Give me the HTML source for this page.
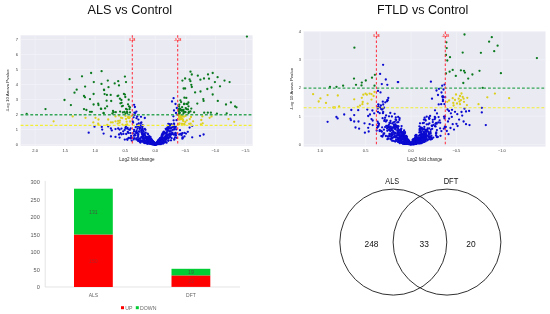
<!DOCTYPE html>
<html><head><meta charset="utf-8"><title>Volcano plots</title>
<style>html,body{margin:0;padding:0;background:#fff}svg{display:block}text{font-family:"Liberation Sans",sans-serif}</style>
</head><body>
<svg width="550" height="314" viewBox="0 0 550 314">
<rect width="550" height="314" fill="#fff"/>
<g font-size="13.2" fill="#111" text-anchor="middle"><text x="129.8" y="14.2" textLength="84.6" lengthAdjust="spacingAndGlyphs">ALS vs Control</text><text x="422.7" y="14.2" textLength="91.4" lengthAdjust="spacingAndGlyphs">FTLD vs Control</text></g>
<rect x="20.6" y="35.3" width="232.0" height="110.5" fill="#eaeaf3"/>
<path d="M35.1 35.3V145.8M65.2 35.3V145.8M95.2 35.3V145.8M125.3 35.3V145.8M155.3 35.3V145.8M185.4 35.3V145.8M215.4 35.3V145.8M245.5 35.3V145.8M20.6 144.5H252.6M20.6 129.5H252.6M20.6 114.5H252.6M20.6 99.5H252.6M20.6 84.5H252.6M20.6 69.5H252.6M20.6 54.5H252.6M20.6 39.5H252.6" stroke="#f4f4f9" stroke-width="0.6" fill="none"/>
<g font-size="4" fill="#3a3a3a" text-anchor="middle">
<text x="35.1" y="152.0">2.0</text>
<text x="65.2" y="152.0">1.5</text>
<text x="95.2" y="152.0">1.0</text>
<text x="125.3" y="152.0">0.5</text>
<text x="155.3" y="152.0">0.0</text>
<text x="185.4" y="152.0">−0.5</text>
<text x="215.4" y="152.0">−1.0</text>
<text x="245.5" y="152.0">−1.5</text>
</g><g font-size="4" fill="#3a3a3a" text-anchor="end">
<text x="18.0" y="145.9">0</text>
<text x="18.0" y="130.9">1</text>
<text x="18.0" y="115.9">2</text>
<text x="18.0" y="100.9">3</text>
<text x="18.0" y="85.9">4</text>
<text x="18.0" y="70.9">5</text>
<text x="18.0" y="55.9">6</text>
<text x="18.0" y="40.9">7</text>
</g>
<text x="136.9" y="161.2" font-size="4.6" fill="#2a2a2a" text-anchor="middle">Log2 fold change</text>
<text transform="translate(8.6,90.6) rotate(-90)" font-size="4.35" fill="#2a2a2a" text-anchor="middle">-Log 10 Anova Pvalue</text>
<g fill="#0a0ad0"><circle cx="94.5" cy="126.7" r="1.15"/><circle cx="88.7" cy="132.7" r="1.15"/><circle cx="101.8" cy="126.9" r="1.15"/><circle cx="102.2" cy="129.6" r="1.15"/><circle cx="103.6" cy="133.6" r="1.15"/><circle cx="108.2" cy="126.4" r="1.15"/><circle cx="110.9" cy="128.5" r="1.15"/><circle cx="111.8" cy="130.4" r="1.15"/><circle cx="115.5" cy="129.1" r="1.15"/><circle cx="118.2" cy="128.5" r="1.15"/><circle cx="119.6" cy="129.6" r="1.15"/><circle cx="110.9" cy="136.4" r="1.15"/><circle cx="115.5" cy="136.9" r="1.15"/><circle cx="119.0" cy="134.5" r="1.15"/><circle cx="119.6" cy="137.6" r="1.15"/><circle cx="203.6" cy="134.5" r="1.15"/><circle cx="200.0" cy="135.8" r="1.15"/><circle cx="192.2" cy="137.3" r="1.15"/><circle cx="187.8" cy="131.8" r="1.15"/><circle cx="184.5" cy="136.4" r="1.15"/><circle cx="182.4" cy="138.7" r="1.15"/><circle cx="189.6" cy="127.6" r="1.15"/><circle cx="192.2" cy="125.8" r="1.15"/><circle cx="134.1" cy="104.8" r="1.15"/><circle cx="134.9" cy="107.0" r="1.15"/><circle cx="136.4" cy="111.6" r="1.15"/><circle cx="135.3" cy="112.9" r="1.15"/><circle cx="134.6" cy="115.0" r="1.15"/><circle cx="133.6" cy="117.3" r="1.15"/><circle cx="141.0" cy="116.8" r="1.15"/><circle cx="144.8" cy="118.0" r="1.15"/><circle cx="173.6" cy="98.2" r="1.15"/><circle cx="172.0" cy="101.5" r="1.15"/><circle cx="175.5" cy="104.0" r="1.15"/><circle cx="176.8" cy="108.0" r="1.15"/><circle cx="174.0" cy="110.5" r="1.15"/><circle cx="176.0" cy="113.0" r="1.15"/><circle cx="131.1" cy="135.9" r="1.15"/><circle cx="120.7" cy="133.2" r="1.15"/><circle cx="130.2" cy="137.8" r="1.15"/><circle cx="128.6" cy="138.0" r="1.15"/><circle cx="127.8" cy="132.0" r="1.15"/><circle cx="121.5" cy="128.6" r="1.15"/><circle cx="130.7" cy="128.3" r="1.15"/><circle cx="130.5" cy="138.4" r="1.15"/><circle cx="123.2" cy="131.3" r="1.15"/><circle cx="125.4" cy="128.0" r="1.15"/><circle cx="131.7" cy="140.6" r="1.15"/><circle cx="123.4" cy="133.9" r="1.15"/><circle cx="127.2" cy="139.1" r="1.15"/><circle cx="129.9" cy="129.8" r="1.15"/><circle cx="129.0" cy="129.6" r="1.15"/><circle cx="124.7" cy="129.9" r="1.15"/><circle cx="127.5" cy="128.0" r="1.15"/><circle cx="128.3" cy="132.9" r="1.15"/><circle cx="124.8" cy="139.6" r="1.15"/><circle cx="127.4" cy="139.8" r="1.15"/><circle cx="126.2" cy="134.0" r="1.15"/><circle cx="125.9" cy="126.3" r="1.15"/><circle cx="127.2" cy="128.7" r="1.15"/><circle cx="131.8" cy="138.0" r="1.15"/><circle cx="130.3" cy="133.1" r="1.15"/><circle cx="121.5" cy="134.3" r="1.15"/><circle cx="180.6" cy="133.8" r="1.15"/><circle cx="182.7" cy="137.8" r="1.15"/><circle cx="179.2" cy="134.4" r="1.15"/><circle cx="180.0" cy="130.2" r="1.15"/><circle cx="186.0" cy="133.6" r="1.15"/><circle cx="182.7" cy="137.4" r="1.15"/><circle cx="181.5" cy="135.2" r="1.15"/><circle cx="182.1" cy="133.7" r="1.15"/><circle cx="184.5" cy="132.8" r="1.15"/><circle cx="182.4" cy="133.2" r="1.15"/><circle cx="145.7" cy="132.7" r="1.15"/><circle cx="147.6" cy="133.7" r="1.15"/><circle cx="157.3" cy="143.0" r="1.15"/><circle cx="145.2" cy="143.1" r="1.15"/><circle cx="159.8" cy="143.9" r="1.15"/><circle cx="142.6" cy="138.2" r="1.15"/><circle cx="136.3" cy="131.9" r="1.15"/><circle cx="141.3" cy="130.9" r="1.15"/><circle cx="175.7" cy="133.5" r="1.15"/><circle cx="162.3" cy="141.4" r="1.15"/><circle cx="159.4" cy="141.3" r="1.15"/><circle cx="140.2" cy="127.5" r="1.15"/><circle cx="144.4" cy="134.4" r="1.15"/><circle cx="167.0" cy="134.7" r="1.15"/><circle cx="156.7" cy="142.7" r="1.15"/><circle cx="159.7" cy="144.1" r="1.15"/><circle cx="167.4" cy="137.6" r="1.15"/><circle cx="163.2" cy="132.4" r="1.15"/><circle cx="148.1" cy="141.6" r="1.15"/><circle cx="151.3" cy="138.9" r="1.15"/><circle cx="145.4" cy="137.5" r="1.15"/><circle cx="143.5" cy="138.7" r="1.15"/><circle cx="150.7" cy="142.7" r="1.15"/><circle cx="159.9" cy="143.5" r="1.15"/><circle cx="165.8" cy="136.6" r="1.15"/><circle cx="162.7" cy="141.5" r="1.15"/><circle cx="154.2" cy="143.1" r="1.15"/><circle cx="151.6" cy="143.6" r="1.15"/><circle cx="137.2" cy="116.4" r="1.15"/><circle cx="162.4" cy="133.6" r="1.15"/><circle cx="153.5" cy="142.3" r="1.15"/><circle cx="174.3" cy="129.2" r="1.15"/><circle cx="135.5" cy="135.3" r="1.15"/><circle cx="166.9" cy="128.3" r="1.15"/><circle cx="165.8" cy="135.3" r="1.15"/><circle cx="150.2" cy="141.9" r="1.15"/><circle cx="152.9" cy="143.8" r="1.15"/><circle cx="173.9" cy="129.6" r="1.15"/><circle cx="167.8" cy="137.1" r="1.15"/><circle cx="134.1" cy="138.2" r="1.15"/><circle cx="159.9" cy="143.1" r="1.15"/><circle cx="153.6" cy="144.1" r="1.15"/><circle cx="171.0" cy="134.8" r="1.15"/><circle cx="142.5" cy="140.4" r="1.15"/><circle cx="151.8" cy="144.0" r="1.15"/><circle cx="164.3" cy="139.6" r="1.15"/><circle cx="134.4" cy="112.7" r="1.15"/><circle cx="147.7" cy="143.3" r="1.15"/><circle cx="151.5" cy="140.4" r="1.15"/><circle cx="159.8" cy="142.5" r="1.15"/><circle cx="168.3" cy="134.8" r="1.15"/><circle cx="147.8" cy="139.2" r="1.15"/><circle cx="134.6" cy="134.3" r="1.15"/><circle cx="175.8" cy="126.9" r="1.15"/><circle cx="148.6" cy="136.6" r="1.15"/><circle cx="145.5" cy="129.8" r="1.15"/><circle cx="147.2" cy="143.5" r="1.15"/><circle cx="158.5" cy="141.2" r="1.15"/><circle cx="156.2" cy="143.2" r="1.15"/><circle cx="143.8" cy="142.4" r="1.15"/><circle cx="174.2" cy="139.7" r="1.15"/><circle cx="154.6" cy="143.9" r="1.15"/><circle cx="152.3" cy="141.7" r="1.15"/><circle cx="155.2" cy="144.3" r="1.15"/><circle cx="160.1" cy="138.1" r="1.15"/><circle cx="150.0" cy="142.8" r="1.15"/><circle cx="146.7" cy="139.5" r="1.15"/><circle cx="150.9" cy="139.7" r="1.15"/><circle cx="153.9" cy="142.1" r="1.15"/><circle cx="168.8" cy="138.0" r="1.15"/><circle cx="165.1" cy="138.1" r="1.15"/><circle cx="159.6" cy="143.2" r="1.15"/><circle cx="152.9" cy="142.2" r="1.15"/><circle cx="155.7" cy="143.8" r="1.15"/><circle cx="138.4" cy="140.3" r="1.15"/><circle cx="142.3" cy="141.5" r="1.15"/><circle cx="154.5" cy="143.7" r="1.15"/><circle cx="153.8" cy="143.5" r="1.15"/><circle cx="148.1" cy="134.4" r="1.15"/><circle cx="160.1" cy="141.2" r="1.15"/><circle cx="154.8" cy="144.3" r="1.15"/><circle cx="155.1" cy="144.1" r="1.15"/><circle cx="144.6" cy="140.9" r="1.15"/><circle cx="151.9" cy="141.4" r="1.15"/><circle cx="155.2" cy="144.0" r="1.15"/><circle cx="153.7" cy="142.3" r="1.15"/><circle cx="149.2" cy="141.5" r="1.15"/><circle cx="153.0" cy="142.2" r="1.15"/><circle cx="159.2" cy="143.8" r="1.15"/><circle cx="146.6" cy="137.2" r="1.15"/><circle cx="152.1" cy="142.4" r="1.15"/><circle cx="149.7" cy="138.4" r="1.15"/><circle cx="163.9" cy="131.7" r="1.15"/><circle cx="161.0" cy="142.2" r="1.15"/><circle cx="153.7" cy="142.5" r="1.15"/><circle cx="147.0" cy="142.7" r="1.15"/><circle cx="164.0" cy="138.2" r="1.15"/><circle cx="162.8" cy="139.7" r="1.15"/><circle cx="142.2" cy="136.3" r="1.15"/><circle cx="166.2" cy="138.5" r="1.15"/><circle cx="157.6" cy="142.8" r="1.15"/><circle cx="167.7" cy="129.6" r="1.15"/><circle cx="157.2" cy="144.0" r="1.15"/><circle cx="153.4" cy="143.1" r="1.15"/><circle cx="150.3" cy="143.8" r="1.15"/><circle cx="176.5" cy="120.2" r="1.15"/><circle cx="173.6" cy="120.3" r="1.15"/><circle cx="163.4" cy="143.1" r="1.15"/><circle cx="161.2" cy="139.4" r="1.15"/><circle cx="143.4" cy="136.2" r="1.15"/><circle cx="152.8" cy="143.7" r="1.15"/><circle cx="142.2" cy="133.1" r="1.15"/><circle cx="160.7" cy="140.2" r="1.15"/><circle cx="156.5" cy="143.1" r="1.15"/><circle cx="166.2" cy="132.9" r="1.15"/><circle cx="149.9" cy="143.4" r="1.15"/><circle cx="150.1" cy="141.7" r="1.15"/><circle cx="166.8" cy="134.5" r="1.15"/><circle cx="148.6" cy="140.6" r="1.15"/><circle cx="143.6" cy="138.6" r="1.15"/><circle cx="159.9" cy="139.2" r="1.15"/><circle cx="158.9" cy="142.8" r="1.15"/><circle cx="159.5" cy="141.2" r="1.15"/><circle cx="160.8" cy="143.8" r="1.15"/><circle cx="157.3" cy="143.1" r="1.15"/><circle cx="151.4" cy="142.3" r="1.15"/><circle cx="152.2" cy="143.5" r="1.15"/><circle cx="164.7" cy="139.3" r="1.15"/><circle cx="155.0" cy="144.2" r="1.15"/><circle cx="146.3" cy="137.4" r="1.15"/><circle cx="141.6" cy="130.4" r="1.15"/><circle cx="151.9" cy="142.1" r="1.15"/><circle cx="153.1" cy="143.7" r="1.15"/><circle cx="158.7" cy="140.2" r="1.15"/><circle cx="162.2" cy="134.7" r="1.15"/><circle cx="140.2" cy="142.2" r="1.15"/><circle cx="142.7" cy="133.3" r="1.15"/><circle cx="164.3" cy="138.0" r="1.15"/><circle cx="167.4" cy="134.9" r="1.15"/><circle cx="150.6" cy="137.1" r="1.15"/><circle cx="163.6" cy="134.7" r="1.15"/><circle cx="156.3" cy="143.3" r="1.15"/><circle cx="162.9" cy="143.7" r="1.15"/><circle cx="151.2" cy="140.2" r="1.15"/><circle cx="162.7" cy="140.6" r="1.15"/><circle cx="156.4" cy="143.1" r="1.15"/><circle cx="158.0" cy="141.7" r="1.15"/><circle cx="136.2" cy="133.2" r="1.15"/><circle cx="162.3" cy="138.9" r="1.15"/><circle cx="158.9" cy="143.9" r="1.15"/><circle cx="164.3" cy="138.3" r="1.15"/><circle cx="153.3" cy="144.4" r="1.15"/><circle cx="173.4" cy="116.3" r="1.15"/><circle cx="138.5" cy="141.1" r="1.15"/><circle cx="155.7" cy="144.1" r="1.15"/><circle cx="150.3" cy="143.1" r="1.15"/><circle cx="147.3" cy="141.7" r="1.15"/><circle cx="142.3" cy="126.8" r="1.15"/><circle cx="150.5" cy="139.9" r="1.15"/><circle cx="162.5" cy="141.9" r="1.15"/><circle cx="153.8" cy="142.9" r="1.15"/><circle cx="148.2" cy="143.3" r="1.15"/><circle cx="154.4" cy="143.4" r="1.15"/><circle cx="141.4" cy="132.6" r="1.15"/><circle cx="146.2" cy="138.8" r="1.15"/><circle cx="154.1" cy="144.0" r="1.15"/><circle cx="154.4" cy="143.5" r="1.15"/><circle cx="169.6" cy="124.4" r="1.15"/><circle cx="153.4" cy="144.2" r="1.15"/><circle cx="150.4" cy="141.1" r="1.15"/><circle cx="159.0" cy="144.0" r="1.15"/><circle cx="142.3" cy="126.9" r="1.15"/><circle cx="151.1" cy="140.6" r="1.15"/><circle cx="147.2" cy="143.6" r="1.15"/><circle cx="143.8" cy="138.2" r="1.15"/><circle cx="154.9" cy="144.1" r="1.15"/><circle cx="170.4" cy="128.7" r="1.15"/><circle cx="161.5" cy="137.8" r="1.15"/><circle cx="141.4" cy="122.5" r="1.15"/><circle cx="136.6" cy="130.3" r="1.15"/><circle cx="174.4" cy="138.9" r="1.15"/><circle cx="152.8" cy="142.8" r="1.15"/><circle cx="156.5" cy="143.5" r="1.15"/><circle cx="161.2" cy="140.3" r="1.15"/><circle cx="158.0" cy="142.7" r="1.15"/><circle cx="142.9" cy="136.0" r="1.15"/><circle cx="169.7" cy="136.3" r="1.15"/><circle cx="154.9" cy="144.3" r="1.15"/><circle cx="152.0" cy="140.8" r="1.15"/><circle cx="149.5" cy="143.5" r="1.15"/><circle cx="160.6" cy="139.7" r="1.15"/><circle cx="158.9" cy="141.5" r="1.15"/><circle cx="147.8" cy="139.0" r="1.15"/><circle cx="148.9" cy="137.9" r="1.15"/><circle cx="157.6" cy="143.4" r="1.15"/><circle cx="156.6" cy="143.9" r="1.15"/><circle cx="172.0" cy="133.4" r="1.15"/><circle cx="148.2" cy="139.6" r="1.15"/><circle cx="157.1" cy="142.4" r="1.15"/><circle cx="151.4" cy="144.0" r="1.15"/><circle cx="142.9" cy="141.3" r="1.15"/><circle cx="151.6" cy="143.2" r="1.15"/><circle cx="148.1" cy="138.8" r="1.15"/><circle cx="153.0" cy="141.2" r="1.15"/><circle cx="162.0" cy="141.2" r="1.15"/><circle cx="160.3" cy="140.2" r="1.15"/><circle cx="142.3" cy="133.6" r="1.15"/><circle cx="136.2" cy="138.3" r="1.15"/><circle cx="153.3" cy="142.9" r="1.15"/><circle cx="163.2" cy="140.8" r="1.15"/><circle cx="145.9" cy="142.1" r="1.15"/><circle cx="167.5" cy="137.3" r="1.15"/><circle cx="159.8" cy="143.1" r="1.15"/><circle cx="147.3" cy="137.9" r="1.15"/><circle cx="149.4" cy="136.2" r="1.15"/><circle cx="154.0" cy="144.3" r="1.15"/><circle cx="157.5" cy="143.1" r="1.15"/><circle cx="172.5" cy="132.6" r="1.15"/><circle cx="151.5" cy="142.2" r="1.15"/><circle cx="165.9" cy="142.2" r="1.15"/><circle cx="137.6" cy="128.6" r="1.15"/><circle cx="155.3" cy="144.4" r="1.15"/><circle cx="154.3" cy="143.4" r="1.15"/><circle cx="158.0" cy="142.1" r="1.15"/><circle cx="172.4" cy="134.1" r="1.15"/><circle cx="170.9" cy="131.1" r="1.15"/><circle cx="162.0" cy="135.8" r="1.15"/><circle cx="137.1" cy="124.3" r="1.15"/><circle cx="154.7" cy="143.8" r="1.15"/><circle cx="160.3" cy="140.5" r="1.15"/><circle cx="172.3" cy="125.6" r="1.15"/><circle cx="153.2" cy="142.1" r="1.15"/><circle cx="148.1" cy="138.3" r="1.15"/><circle cx="144.4" cy="139.7" r="1.15"/><circle cx="139.9" cy="127.9" r="1.15"/><circle cx="140.1" cy="141.7" r="1.15"/><circle cx="155.2" cy="144.4" r="1.15"/><circle cx="173.9" cy="126.5" r="1.15"/><circle cx="154.8" cy="143.7" r="1.15"/><circle cx="146.1" cy="136.8" r="1.15"/><circle cx="148.5" cy="141.9" r="1.15"/><circle cx="137.8" cy="137.3" r="1.15"/><circle cx="147.7" cy="140.3" r="1.15"/><circle cx="168.6" cy="140.3" r="1.15"/><circle cx="156.7" cy="143.0" r="1.15"/><circle cx="155.8" cy="144.2" r="1.15"/><circle cx="147.0" cy="142.4" r="1.15"/><circle cx="156.5" cy="142.6" r="1.15"/><circle cx="169.6" cy="134.6" r="1.15"/><circle cx="155.2" cy="144.4" r="1.15"/><circle cx="148.0" cy="142.7" r="1.15"/><circle cx="134.0" cy="135.8" r="1.15"/><circle cx="148.0" cy="137.9" r="1.15"/><circle cx="161.5" cy="142.3" r="1.15"/><circle cx="163.3" cy="140.2" r="1.15"/><circle cx="146.1" cy="141.2" r="1.15"/><circle cx="169.4" cy="124.5" r="1.15"/><circle cx="153.9" cy="142.6" r="1.15"/><circle cx="138.8" cy="131.6" r="1.15"/><circle cx="154.7" cy="143.7" r="1.15"/><circle cx="167.6" cy="127.5" r="1.15"/><circle cx="155.8" cy="144.0" r="1.15"/><circle cx="164.4" cy="132.7" r="1.15"/><circle cx="161.4" cy="136.7" r="1.15"/><circle cx="148.5" cy="143.3" r="1.15"/><circle cx="152.8" cy="142.5" r="1.15"/><circle cx="138.2" cy="136.1" r="1.15"/><circle cx="155.2" cy="144.4" r="1.15"/><circle cx="138.4" cy="126.6" r="1.15"/><circle cx="170.3" cy="136.9" r="1.15"/><circle cx="155.7" cy="143.9" r="1.15"/><circle cx="155.3" cy="144.3" r="1.15"/><circle cx="153.6" cy="143.2" r="1.15"/><circle cx="141.9" cy="129.1" r="1.15"/><circle cx="154.4" cy="143.4" r="1.15"/><circle cx="133.1" cy="122.5" r="1.15"/><circle cx="138.4" cy="134.1" r="1.15"/><circle cx="164.0" cy="132.1" r="1.15"/><circle cx="142.8" cy="129.1" r="1.15"/><circle cx="177.0" cy="137.9" r="1.15"/><circle cx="158.9" cy="141.6" r="1.15"/><circle cx="169.5" cy="135.4" r="1.15"/><circle cx="153.9" cy="143.4" r="1.15"/><circle cx="149.6" cy="142.2" r="1.15"/><circle cx="156.4" cy="143.1" r="1.15"/><circle cx="170.9" cy="133.5" r="1.15"/><circle cx="162.6" cy="139.6" r="1.15"/><circle cx="155.6" cy="144.0" r="1.15"/><circle cx="154.2" cy="144.4" r="1.15"/><circle cx="143.6" cy="131.6" r="1.15"/><circle cx="144.5" cy="142.4" r="1.15"/><circle cx="141.6" cy="137.2" r="1.15"/><circle cx="153.8" cy="143.2" r="1.15"/><circle cx="168.8" cy="127.5" r="1.15"/><circle cx="138.8" cy="123.5" r="1.15"/><circle cx="147.0" cy="138.3" r="1.15"/><circle cx="142.6" cy="125.1" r="1.15"/><circle cx="144.6" cy="140.7" r="1.15"/><circle cx="142.0" cy="134.1" r="1.15"/><circle cx="138.1" cy="134.9" r="1.15"/><circle cx="144.5" cy="135.1" r="1.15"/><circle cx="134.1" cy="129.9" r="1.15"/><circle cx="152.7" cy="142.2" r="1.15"/><circle cx="162.2" cy="135.9" r="1.15"/><circle cx="159.4" cy="139.2" r="1.15"/><circle cx="150.8" cy="140.6" r="1.15"/><circle cx="148.9" cy="143.1" r="1.15"/><circle cx="160.8" cy="144.2" r="1.15"/><circle cx="154.4" cy="143.6" r="1.15"/><circle cx="149.4" cy="140.6" r="1.15"/><circle cx="149.0" cy="138.0" r="1.15"/><circle cx="148.0" cy="137.1" r="1.15"/><circle cx="152.1" cy="140.2" r="1.15"/><circle cx="166.6" cy="142.7" r="1.15"/><circle cx="132.7" cy="121.3" r="1.15"/><circle cx="155.1" cy="144.2" r="1.15"/><circle cx="168.9" cy="128.7" r="1.15"/><circle cx="140.1" cy="140.2" r="1.15"/><circle cx="157.9" cy="142.6" r="1.15"/><circle cx="160.5" cy="138.3" r="1.15"/><circle cx="156.8" cy="143.9" r="1.15"/><circle cx="162.9" cy="138.0" r="1.15"/><circle cx="161.7" cy="140.6" r="1.15"/><circle cx="176.2" cy="129.4" r="1.15"/><circle cx="140.9" cy="123.1" r="1.15"/><circle cx="146.6" cy="137.8" r="1.15"/><circle cx="166.1" cy="139.5" r="1.15"/><circle cx="150.0" cy="137.4" r="1.15"/><circle cx="156.9" cy="143.1" r="1.15"/><circle cx="150.7" cy="143.5" r="1.15"/><circle cx="141.8" cy="140.7" r="1.15"/><circle cx="138.1" cy="140.8" r="1.15"/><circle cx="147.8" cy="140.5" r="1.15"/><circle cx="136.3" cy="139.5" r="1.15"/><circle cx="175.4" cy="132.9" r="1.15"/><circle cx="139.8" cy="129.1" r="1.15"/><circle cx="158.3" cy="144.1" r="1.15"/><circle cx="156.7" cy="144.2" r="1.15"/><circle cx="161.7" cy="140.6" r="1.15"/><circle cx="137.4" cy="126.4" r="1.15"/><circle cx="157.6" cy="142.9" r="1.15"/><circle cx="156.0" cy="144.4" r="1.15"/><circle cx="157.0" cy="143.8" r="1.15"/><circle cx="159.2" cy="143.9" r="1.15"/><circle cx="138.1" cy="139.6" r="1.15"/><circle cx="159.2" cy="140.5" r="1.15"/><circle cx="138.4" cy="119.6" r="1.15"/><circle cx="167.0" cy="132.1" r="1.15"/><circle cx="151.7" cy="143.4" r="1.15"/><circle cx="150.7" cy="142.2" r="1.15"/><circle cx="154.4" cy="143.5" r="1.15"/><circle cx="162.4" cy="141.2" r="1.15"/><circle cx="132.8" cy="133.3" r="1.15"/><circle cx="149.6" cy="142.9" r="1.15"/><circle cx="145.6" cy="142.7" r="1.15"/><circle cx="140.5" cy="125.3" r="1.15"/><circle cx="134.0" cy="131.6" r="1.15"/><circle cx="146.9" cy="141.6" r="1.15"/><circle cx="174.1" cy="124.0" r="1.15"/><circle cx="155.8" cy="143.7" r="1.15"/><circle cx="163.0" cy="139.3" r="1.15"/><circle cx="164.4" cy="137.1" r="1.15"/><circle cx="153.2" cy="143.3" r="1.15"/><circle cx="140.3" cy="138.4" r="1.15"/><circle cx="167.7" cy="130.3" r="1.15"/><circle cx="148.0" cy="138.2" r="1.15"/><circle cx="133.7" cy="139.4" r="1.15"/><circle cx="165.7" cy="128.8" r="1.15"/><circle cx="144.6" cy="141.5" r="1.15"/><circle cx="163.8" cy="139.2" r="1.15"/><circle cx="171.4" cy="124.1" r="1.15"/><circle cx="170.7" cy="125.5" r="1.15"/><circle cx="152.5" cy="142.0" r="1.15"/><circle cx="168.1" cy="138.3" r="1.15"/><circle cx="160.5" cy="142.6" r="1.15"/><circle cx="171.1" cy="128.0" r="1.15"/><circle cx="136.3" cy="131.9" r="1.15"/><circle cx="155.0" cy="144.2" r="1.15"/><circle cx="165.9" cy="133.0" r="1.15"/><circle cx="165.9" cy="132.8" r="1.15"/><circle cx="141.4" cy="137.1" r="1.15"/><circle cx="175.0" cy="137.3" r="1.15"/><circle cx="161.2" cy="143.1" r="1.15"/><circle cx="149.6" cy="142.2" r="1.15"/><circle cx="152.8" cy="141.4" r="1.15"/><circle cx="168.3" cy="123.8" r="1.15"/><circle cx="157.8" cy="140.9" r="1.15"/><circle cx="151.7" cy="142.9" r="1.15"/><circle cx="154.1" cy="143.9" r="1.15"/><circle cx="157.4" cy="142.2" r="1.15"/><circle cx="159.3" cy="141.7" r="1.15"/><circle cx="169.4" cy="131.2" r="1.15"/><circle cx="146.0" cy="141.7" r="1.15"/><circle cx="144.5" cy="133.5" r="1.15"/><circle cx="176.0" cy="135.6" r="1.15"/><circle cx="152.3" cy="142.5" r="1.15"/><circle cx="153.1" cy="142.8" r="1.15"/><circle cx="164.3" cy="142.6" r="1.15"/><circle cx="157.2" cy="142.8" r="1.15"/><circle cx="149.6" cy="140.0" r="1.15"/><circle cx="152.2" cy="142.7" r="1.15"/><circle cx="156.6" cy="143.9" r="1.15"/><circle cx="161.3" cy="143.0" r="1.15"/><circle cx="160.2" cy="139.1" r="1.15"/><circle cx="152.5" cy="144.3" r="1.15"/><circle cx="171.0" cy="140.3" r="1.15"/><circle cx="156.4" cy="143.7" r="1.15"/><circle cx="139.3" cy="131.5" r="1.15"/><circle cx="175.6" cy="134.4" r="1.15"/><circle cx="158.6" cy="142.1" r="1.15"/><circle cx="144.8" cy="128.9" r="1.15"/><circle cx="150.5" cy="143.3" r="1.15"/><circle cx="161.8" cy="140.3" r="1.15"/><circle cx="144.5" cy="143.0" r="1.15"/><circle cx="173.7" cy="134.3" r="1.15"/><circle cx="154.3" cy="142.9" r="1.15"/><circle cx="143.0" cy="134.6" r="1.15"/><circle cx="149.5" cy="141.5" r="1.15"/><circle cx="136.5" cy="118.2" r="1.15"/><circle cx="166.2" cy="129.8" r="1.15"/><circle cx="159.2" cy="139.6" r="1.15"/><circle cx="160.8" cy="138.7" r="1.15"/><circle cx="171.6" cy="138.2" r="1.15"/><circle cx="159.4" cy="142.3" r="1.15"/><circle cx="169.4" cy="133.5" r="1.15"/><circle cx="153.4" cy="143.6" r="1.15"/><circle cx="154.3" cy="144.2" r="1.15"/><circle cx="161.4" cy="138.3" r="1.15"/><circle cx="156.7" cy="143.5" r="1.15"/><circle cx="161.6" cy="138.2" r="1.15"/><circle cx="172.7" cy="127.3" r="1.15"/><circle cx="156.7" cy="144.3" r="1.15"/><circle cx="143.7" cy="141.4" r="1.15"/><circle cx="174.2" cy="134.7" r="1.15"/><circle cx="168.7" cy="126.7" r="1.15"/><circle cx="148.3" cy="139.4" r="1.15"/><circle cx="160.0" cy="138.7" r="1.15"/><circle cx="145.1" cy="135.4" r="1.15"/><circle cx="168.2" cy="140.8" r="1.15"/><circle cx="155.4" cy="144.1" r="1.15"/><circle cx="154.5" cy="143.8" r="1.15"/><circle cx="159.9" cy="141.8" r="1.15"/><circle cx="140.4" cy="142.6" r="1.15"/><circle cx="167.1" cy="138.5" r="1.15"/><circle cx="163.9" cy="142.0" r="1.15"/><circle cx="161.8" cy="135.2" r="1.15"/><circle cx="164.9" cy="141.6" r="1.15"/><circle cx="166.9" cy="137.4" r="1.15"/><circle cx="137.2" cy="132.9" r="1.15"/><circle cx="154.8" cy="143.7" r="1.15"/><circle cx="155.0" cy="144.3" r="1.15"/><circle cx="158.5" cy="143.3" r="1.15"/><circle cx="167.9" cy="130.7" r="1.15"/><circle cx="151.6" cy="142.4" r="1.15"/><circle cx="156.5" cy="144.4" r="1.15"/><circle cx="162.2" cy="141.2" r="1.15"/><circle cx="151.4" cy="140.5" r="1.15"/><circle cx="151.2" cy="141.1" r="1.15"/><circle cx="154.3" cy="144.0" r="1.15"/><circle cx="173.9" cy="123.6" r="1.15"/><circle cx="156.1" cy="144.1" r="1.15"/><circle cx="145.4" cy="141.1" r="1.15"/><circle cx="158.4" cy="140.1" r="1.15"/><circle cx="158.0" cy="143.4" r="1.15"/><circle cx="155.6" cy="144.4" r="1.15"/><circle cx="163.9" cy="133.3" r="1.15"/><circle cx="153.6" cy="143.5" r="1.15"/><circle cx="135.7" cy="127.2" r="1.15"/><circle cx="174.8" cy="127.9" r="1.15"/><circle cx="154.3" cy="143.2" r="1.15"/><circle cx="141.5" cy="141.3" r="1.15"/><circle cx="137.2" cy="139.4" r="1.15"/><circle cx="145.3" cy="137.2" r="1.15"/><circle cx="143.1" cy="130.9" r="1.15"/><circle cx="172.4" cy="129.9" r="1.15"/><circle cx="156.1" cy="143.6" r="1.15"/><circle cx="165.5" cy="140.3" r="1.15"/><circle cx="139.2" cy="138.7" r="1.15"/><circle cx="152.7" cy="144.2" r="1.15"/><circle cx="149.7" cy="140.9" r="1.15"/></g>
<g fill="#dccf1e"><circle cx="53.6" cy="121.3" r="1.15"/><circle cx="72.7" cy="116.4" r="1.15"/><circle cx="85.5" cy="117.8" r="1.15"/><circle cx="95.5" cy="117.8" r="1.15"/><circle cx="98.5" cy="119.5" r="1.15"/><circle cx="93.3" cy="122.4" r="1.15"/><circle cx="98.2" cy="123.6" r="1.15"/><circle cx="98.5" cy="124.9" r="1.15"/><circle cx="108.2" cy="119.5" r="1.15"/><circle cx="110.9" cy="122.4" r="1.15"/><circle cx="112.7" cy="122.4" r="1.15"/><circle cx="107.3" cy="124.9" r="1.15"/><circle cx="115.5" cy="116.4" r="1.15"/><circle cx="119.0" cy="115.5" r="1.15"/><circle cx="115.5" cy="121.3" r="1.15"/><circle cx="118.2" cy="120.9" r="1.15"/><circle cx="119.6" cy="122.7" r="1.15"/><circle cx="117.8" cy="123.6" r="1.15"/><circle cx="228.5" cy="119.1" r="1.15"/><circle cx="234.2" cy="121.8" r="1.15"/><circle cx="211.5" cy="116.4" r="1.15"/><circle cx="209.6" cy="117.8" r="1.15"/><circle cx="202.4" cy="116.4" r="1.15"/><circle cx="201.3" cy="120.0" r="1.15"/><circle cx="202.7" cy="123.3" r="1.15"/><circle cx="200.9" cy="124.5" r="1.15"/><circle cx="182.1" cy="123.8" r="1.15"/><circle cx="179.2" cy="119.7" r="1.15"/><circle cx="184.2" cy="123.9" r="1.15"/><circle cx="190.6" cy="123.7" r="1.15"/><circle cx="180.9" cy="119.3" r="1.15"/><circle cx="181.7" cy="123.9" r="1.15"/><circle cx="179.7" cy="117.0" r="1.15"/><circle cx="180.4" cy="117.6" r="1.15"/><circle cx="183.2" cy="121.0" r="1.15"/><circle cx="180.7" cy="115.3" r="1.15"/><circle cx="182.4" cy="118.9" r="1.15"/><circle cx="184.4" cy="124.5" r="1.15"/><circle cx="186.8" cy="120.3" r="1.15"/><circle cx="185.3" cy="121.9" r="1.15"/><circle cx="179.0" cy="124.0" r="1.15"/><circle cx="189.2" cy="123.8" r="1.15"/><circle cx="189.8" cy="119.1" r="1.15"/><circle cx="182.2" cy="116.3" r="1.15"/><circle cx="185.6" cy="115.9" r="1.15"/><circle cx="179.1" cy="117.3" r="1.15"/><circle cx="179.8" cy="118.6" r="1.15"/><circle cx="179.0" cy="115.3" r="1.15"/><circle cx="179.7" cy="116.3" r="1.15"/><circle cx="181.8" cy="115.5" r="1.15"/><circle cx="193.1" cy="121.3" r="1.15"/><circle cx="179.7" cy="117.7" r="1.15"/><circle cx="181.6" cy="118.8" r="1.15"/><circle cx="179.5" cy="123.5" r="1.15"/><circle cx="183.0" cy="120.0" r="1.15"/><circle cx="179.2" cy="116.3" r="1.15"/><circle cx="181.5" cy="117.9" r="1.15"/><circle cx="191.0" cy="116.9" r="1.15"/><circle cx="178.8" cy="124.5" r="1.15"/><circle cx="183.9" cy="116.7" r="1.15"/><circle cx="125.5" cy="115.9" r="1.15"/><circle cx="125.8" cy="124.8" r="1.15"/><circle cx="122.3" cy="118.1" r="1.15"/><circle cx="128.1" cy="117.2" r="1.15"/><circle cx="120.0" cy="120.6" r="1.15"/><circle cx="128.6" cy="117.7" r="1.15"/><circle cx="121.0" cy="117.7" r="1.15"/><circle cx="126.0" cy="118.9" r="1.15"/><circle cx="131.6" cy="115.9" r="1.15"/><circle cx="129.2" cy="118.0" r="1.15"/><circle cx="122.4" cy="124.6" r="1.15"/><circle cx="127.1" cy="124.4" r="1.15"/><circle cx="128.2" cy="117.7" r="1.15"/><circle cx="129.7" cy="117.4" r="1.15"/><circle cx="130.0" cy="121.5" r="1.15"/><circle cx="126.6" cy="121.7" r="1.15"/></g>
<g fill="#0b7a1e"><circle cx="69.6" cy="79.2" r="1.15"/><circle cx="82.0" cy="76.3" r="1.15"/><circle cx="91.1" cy="73.0" r="1.15"/><circle cx="101.6" cy="71.2" r="1.15"/><circle cx="93.8" cy="82.1" r="1.15"/><circle cx="85.1" cy="86.6" r="1.15"/><circle cx="101.5" cy="83.9" r="1.15"/><circle cx="107.8" cy="80.6" r="1.15"/><circle cx="114.7" cy="83.4" r="1.15"/><circle cx="118.2" cy="81.2" r="1.15"/><circle cx="108.5" cy="87.2" r="1.15"/><circle cx="119.0" cy="85.4" r="1.15"/><circle cx="76.7" cy="89.7" r="1.15"/><circle cx="104.0" cy="89.7" r="1.15"/><circle cx="26.7" cy="114.0" r="1.15"/><circle cx="45.5" cy="109.1" r="1.15"/><circle cx="64.5" cy="100.0" r="1.15"/><circle cx="70.9" cy="105.1" r="1.15"/><circle cx="74.5" cy="92.7" r="1.15"/><circle cx="84.0" cy="96.0" r="1.15"/><circle cx="85.0" cy="97.3" r="1.15"/><circle cx="90.0" cy="99.1" r="1.15"/><circle cx="93.6" cy="94.0" r="1.15"/><circle cx="93.6" cy="104.5" r="1.15"/><circle cx="98.2" cy="103.6" r="1.15"/><circle cx="98.5" cy="105.1" r="1.15"/><circle cx="84.0" cy="109.1" r="1.15"/><circle cx="86.4" cy="110.0" r="1.15"/><circle cx="90.0" cy="111.8" r="1.15"/><circle cx="91.8" cy="111.8" r="1.15"/><circle cx="100.9" cy="108.7" r="1.15"/><circle cx="103.6" cy="113.3" r="1.15"/><circle cx="124.9" cy="76.6" r="1.15"/><circle cx="126.0" cy="82.1" r="1.15"/><circle cx="190.5" cy="71.7" r="1.15"/><circle cx="191.8" cy="74.5" r="1.15"/><circle cx="182.4" cy="80.6" r="1.15"/><circle cx="185.1" cy="78.5" r="1.15"/><circle cx="189.6" cy="79.4" r="1.15"/><circle cx="190.4" cy="81.2" r="1.15"/><circle cx="191.3" cy="84.8" r="1.15"/><circle cx="191.8" cy="87.0" r="1.15"/><circle cx="183.6" cy="88.5" r="1.15"/><circle cx="185.1" cy="88.5" r="1.15"/><circle cx="197.8" cy="75.7" r="1.15"/><circle cx="200.4" cy="79.7" r="1.15"/><circle cx="204.0" cy="78.5" r="1.15"/><circle cx="208.0" cy="74.4" r="1.15"/><circle cx="209.0" cy="78.7" r="1.15"/><circle cx="246.9" cy="36.6" r="1.15"/><circle cx="212.7" cy="73.0" r="1.15"/><circle cx="217.6" cy="77.2" r="1.15"/><circle cx="214.9" cy="82.1" r="1.15"/><circle cx="224.5" cy="80.6" r="1.15"/><circle cx="229.6" cy="82.1" r="1.15"/><circle cx="220.0" cy="86.3" r="1.15"/><circle cx="211.5" cy="87.5" r="1.15"/><circle cx="207.3" cy="89.0" r="1.15"/><circle cx="195.1" cy="92.4" r="1.15"/><circle cx="200.5" cy="91.5" r="1.15"/><circle cx="212.7" cy="94.5" r="1.15"/><circle cx="203.3" cy="99.1" r="1.15"/><circle cx="203.6" cy="100.9" r="1.15"/><circle cx="217.8" cy="100.9" r="1.15"/><circle cx="226.0" cy="104.5" r="1.15"/><circle cx="230.9" cy="102.4" r="1.15"/><circle cx="235.1" cy="106.4" r="1.15"/><circle cx="236.5" cy="107.3" r="1.15"/><circle cx="226.7" cy="113.3" r="1.15"/><circle cx="216.9" cy="113.6" r="1.15"/><circle cx="210.9" cy="112.7" r="1.15"/><circle cx="207.8" cy="112.7" r="1.15"/><circle cx="204.2" cy="112.7" r="1.15"/><circle cx="104.1" cy="90.2" r="1.15"/><circle cx="104.6" cy="94.1" r="1.15"/><circle cx="106.9" cy="94.9" r="1.15"/><circle cx="110.7" cy="94.9" r="1.15"/><circle cx="106.6" cy="100.7" r="1.15"/><circle cx="111.2" cy="101.0" r="1.15"/><circle cx="107.1" cy="106.3" r="1.15"/><circle cx="105.1" cy="108.4" r="1.15"/><circle cx="101.2" cy="108.9" r="1.15"/><circle cx="103.6" cy="113.0" r="1.15"/><circle cx="118.3" cy="95.6" r="1.15"/><circle cx="117.5" cy="96.1" r="1.15"/><circle cx="123.9" cy="93.9" r="1.15"/><circle cx="124.9" cy="94.6" r="1.15"/><circle cx="125.3" cy="97.0" r="1.15"/><circle cx="119.9" cy="98.7" r="1.15"/><circle cx="121.4" cy="100.0" r="1.15"/><circle cx="128.7" cy="99.7" r="1.15"/><circle cx="120.4" cy="103.3" r="1.15"/><circle cx="121.6" cy="102.8" r="1.15"/><circle cx="128.0" cy="104.3" r="1.15"/><circle cx="121.9" cy="106.3" r="1.15"/><circle cx="122.9" cy="105.8" r="1.15"/><circle cx="129.0" cy="106.3" r="1.15"/><circle cx="130.0" cy="107.3" r="1.15"/><circle cx="126.0" cy="108.9" r="1.15"/><circle cx="127.0" cy="109.6" r="1.15"/><circle cx="129.5" cy="109.2" r="1.15"/><circle cx="113.0" cy="110.9" r="1.15"/><circle cx="113.7" cy="112.2" r="1.15"/><circle cx="115.8" cy="112.2" r="1.15"/><circle cx="112.4" cy="113.5" r="1.15"/><circle cx="120.1" cy="111.6" r="1.15"/><circle cx="122.9" cy="112.4" r="1.15"/><circle cx="124.4" cy="111.9" r="1.15"/><circle cx="127.0" cy="111.9" r="1.15"/><circle cx="127.3" cy="112.9" r="1.15"/><circle cx="130.0" cy="112.4" r="1.15"/><circle cx="125.5" cy="113.5" r="1.15"/><circle cx="182.1" cy="107.2" r="1.15"/><circle cx="179.3" cy="104.6" r="1.15"/><circle cx="185.5" cy="112.2" r="1.15"/><circle cx="185.0" cy="111.9" r="1.15"/><circle cx="178.9" cy="111.2" r="1.15"/><circle cx="179.5" cy="112.8" r="1.15"/><circle cx="183.6" cy="112.1" r="1.15"/><circle cx="180.9" cy="110.4" r="1.15"/><circle cx="187.5" cy="104.1" r="1.15"/><circle cx="183.1" cy="110.6" r="1.15"/><circle cx="179.0" cy="109.8" r="1.15"/><circle cx="180.0" cy="108.9" r="1.15"/><circle cx="179.7" cy="108.7" r="1.15"/><circle cx="180.4" cy="100.3" r="1.15"/><circle cx="186.4" cy="109.0" r="1.15"/><circle cx="185.7" cy="108.1" r="1.15"/><circle cx="179.2" cy="108.9" r="1.15"/><circle cx="188.9" cy="112.0" r="1.15"/><circle cx="183.6" cy="109.8" r="1.15"/><circle cx="184.0" cy="104.2" r="1.15"/><circle cx="181.8" cy="110.6" r="1.15"/><circle cx="181.1" cy="102.1" r="1.15"/><circle cx="186.3" cy="97.9" r="1.15"/><circle cx="190.4" cy="111.4" r="1.15"/><circle cx="181.7" cy="110.0" r="1.15"/><circle cx="183.5" cy="113.5" r="1.15"/><circle cx="191.3" cy="108.6" r="1.15"/><circle cx="179.0" cy="106.4" r="1.15"/><circle cx="188.5" cy="113.0" r="1.15"/><circle cx="197.3" cy="103.6" r="1.15"/><circle cx="182.0" cy="110.4" r="1.15"/><circle cx="186.4" cy="103.9" r="1.15"/><circle cx="184.1" cy="103.7" r="1.15"/><circle cx="184.4" cy="97.7" r="1.15"/><circle cx="188.4" cy="102.5" r="1.15"/><circle cx="188.0" cy="109.4" r="1.15"/><circle cx="194.1" cy="112.3" r="1.15"/><circle cx="188.5" cy="106.3" r="1.15"/><circle cx="178.8" cy="109.3" r="1.15"/><circle cx="179.7" cy="112.8" r="1.15"/><circle cx="179.1" cy="113.5" r="1.15"/><circle cx="181.2" cy="109.8" r="1.15"/></g>
<path d="M20.6 125.4H252.6" stroke="#f2ee30" stroke-width="1.4" stroke-dasharray="2.9 1.95" fill="none"/>
<path d="M20.6 114.8H252.6" stroke="#35a558" stroke-width="1.5499999999999998" stroke-dasharray="2.9 1.95" fill="none"/>
<path d="M132.3 35.3V145.8" stroke="#ff3040" stroke-width="1.05" stroke-dasharray="2.5 2.1" fill="none"/>
<text x="132.3" y="40.9" font-size="3.2" font-weight="bold" fill="#ff2a2a" text-anchor="middle">0.38</text>
<path d="M177.7 35.3V145.8" stroke="#ff3040" stroke-width="1.05" stroke-dasharray="2.5 2.1" fill="none"/>
<text x="177.7" y="40.9" font-size="3.2" font-weight="bold" fill="#ff2a2a" text-anchor="middle">-0.38</text>
<rect x="303.7" y="31.4" width="241.8" height="115.2" fill="#eaeaf3"/>
<path d="M320.1 31.4V146.6M365.6 31.4V146.6M411.0 31.4V146.6M456.4 31.4V146.6M501.9 31.4V146.6M303.7 144.4H545.5M303.7 116.2H545.5M303.7 88.0H545.5M303.7 59.8H545.5M303.7 31.6H545.5" stroke="#f4f4f9" stroke-width="0.6" fill="none"/>
<g font-size="4" fill="#3a3a3a" text-anchor="middle">
<text x="320.1" y="152.0">1.0</text>
<text x="365.6" y="152.0">0.5</text>
<text x="411.0" y="152.0">0.0</text>
<text x="456.4" y="152.0">−0.5</text>
<text x="501.9" y="152.0">−1.0</text>
</g><g font-size="4" fill="#3a3a3a" text-anchor="end">
<text x="301.1" y="145.8">0</text>
<text x="301.1" y="117.6">1</text>
<text x="301.1" y="89.4">2</text>
<text x="301.1" y="61.2">3</text>
<text x="301.1" y="33.0">4</text>
</g>
<text x="424.8" y="161.2" font-size="4.6" fill="#2a2a2a" text-anchor="middle">Log2 fold change</text>
<text transform="translate(292.7,89.0) rotate(-90)" font-size="4.35" fill="#2a2a2a" text-anchor="middle">-Log 10 Anova Pvalue</text>
<g fill="#0a0ad0"><circle cx="383.1" cy="64.8" r="1.15"/><circle cx="385.8" cy="79.5" r="1.15"/><circle cx="387.3" cy="84.8" r="1.15"/><circle cx="398.2" cy="82.1" r="1.15"/><circle cx="397.8" cy="82.1" r="1.15"/><circle cx="430.9" cy="81.7" r="1.15"/><circle cx="327.6" cy="121.8" r="1.15"/><circle cx="336.4" cy="116.9" r="1.15"/><circle cx="337.6" cy="118.4" r="1.15"/><circle cx="344.2" cy="114.5" r="1.15"/><circle cx="350.4" cy="118.7" r="1.15"/><circle cx="350.9" cy="120.2" r="1.15"/><circle cx="351.3" cy="110.0" r="1.15"/><circle cx="354.2" cy="115.1" r="1.15"/><circle cx="354.2" cy="121.5" r="1.15"/><circle cx="358.2" cy="110.2" r="1.15"/><circle cx="358.5" cy="121.5" r="1.15"/><circle cx="355.5" cy="127.5" r="1.15"/><circle cx="359.1" cy="128.7" r="1.15"/><circle cx="364.5" cy="123.3" r="1.15"/><circle cx="364.9" cy="132.7" r="1.15"/><circle cx="368.2" cy="127.8" r="1.15"/><circle cx="368.7" cy="131.5" r="1.15"/><circle cx="367.3" cy="109.6" r="1.15"/><circle cx="370.0" cy="114.5" r="1.15"/><circle cx="368.2" cy="116.0" r="1.15"/><circle cx="371.5" cy="119.1" r="1.15"/><circle cx="372.7" cy="120.5" r="1.15"/><circle cx="372.4" cy="110.5" r="1.15"/><circle cx="374.2" cy="113.3" r="1.15"/><circle cx="369.6" cy="124.2" r="1.15"/><circle cx="372.7" cy="125.1" r="1.15"/><circle cx="481.8" cy="107.8" r="1.15"/><circle cx="481.8" cy="112.4" r="1.15"/><circle cx="485.8" cy="125.1" r="1.15"/><circle cx="469.5" cy="125.1" r="1.15"/><circle cx="466.0" cy="124.2" r="1.15"/><circle cx="463.6" cy="121.5" r="1.15"/><circle cx="459.1" cy="119.6" r="1.15"/><circle cx="462.2" cy="115.6" r="1.15"/><circle cx="457.3" cy="114.2" r="1.15"/><circle cx="461.5" cy="112.0" r="1.15"/><circle cx="466.0" cy="111.5" r="1.15"/><circle cx="469.1" cy="110.9" r="1.15"/><circle cx="464.5" cy="108.7" r="1.15"/><circle cx="450.9" cy="113.3" r="1.15"/><circle cx="451.8" cy="116.9" r="1.15"/><circle cx="449.1" cy="118.7" r="1.15"/><circle cx="452.7" cy="124.2" r="1.15"/><circle cx="456.4" cy="123.8" r="1.15"/><circle cx="457.6" cy="126.0" r="1.15"/><circle cx="454.0" cy="129.6" r="1.15"/><circle cx="448.5" cy="134.2" r="1.15"/><circle cx="445.8" cy="126.9" r="1.15"/><circle cx="447.5" cy="109.5" r="1.15"/><circle cx="449.0" cy="111.0" r="1.15"/><circle cx="452.0" cy="109.8" r="1.15"/><circle cx="455.0" cy="111.8" r="1.15"/><circle cx="448.0" cy="121.5" r="1.15"/><circle cx="450.5" cy="128.0" r="1.15"/><circle cx="446.8" cy="131.0" r="1.15"/><circle cx="436.5" cy="90.5" r="1.15"/><circle cx="439.0" cy="88.8" r="1.15"/><circle cx="441.5" cy="92.5" r="1.15"/><circle cx="443.5" cy="89.5" r="1.15"/><circle cx="438.0" cy="95.0" r="1.15"/><circle cx="442.8" cy="97.5" r="1.15"/><circle cx="405.5" cy="142.1" r="1.15"/><circle cx="410.7" cy="143.9" r="1.15"/><circle cx="387.7" cy="136.5" r="1.15"/><circle cx="407.0" cy="140.7" r="1.15"/><circle cx="391.7" cy="130.0" r="1.15"/><circle cx="422.0" cy="136.2" r="1.15"/><circle cx="440.5" cy="135.8" r="1.15"/><circle cx="420.9" cy="128.4" r="1.15"/><circle cx="402.1" cy="134.3" r="1.15"/><circle cx="415.2" cy="140.1" r="1.15"/><circle cx="428.8" cy="136.9" r="1.15"/><circle cx="382.5" cy="136.6" r="1.15"/><circle cx="409.4" cy="142.9" r="1.15"/><circle cx="408.1" cy="143.4" r="1.15"/><circle cx="419.9" cy="129.2" r="1.15"/><circle cx="407.8" cy="142.4" r="1.15"/><circle cx="423.1" cy="141.3" r="1.15"/><circle cx="443.8" cy="128.7" r="1.15"/><circle cx="414.3" cy="140.6" r="1.15"/><circle cx="420.9" cy="139.4" r="1.15"/><circle cx="445.0" cy="127.9" r="1.15"/><circle cx="403.3" cy="142.7" r="1.15"/><circle cx="398.3" cy="135.3" r="1.15"/><circle cx="392.1" cy="138.5" r="1.15"/><circle cx="413.8" cy="143.0" r="1.15"/><circle cx="402.9" cy="139.0" r="1.15"/><circle cx="410.7" cy="143.9" r="1.15"/><circle cx="412.9" cy="142.6" r="1.15"/><circle cx="397.2" cy="122.3" r="1.15"/><circle cx="406.8" cy="141.0" r="1.15"/><circle cx="411.5" cy="143.5" r="1.15"/><circle cx="424.9" cy="136.5" r="1.15"/><circle cx="386.8" cy="120.4" r="1.15"/><circle cx="390.7" cy="126.6" r="1.15"/><circle cx="423.1" cy="137.0" r="1.15"/><circle cx="416.7" cy="137.9" r="1.15"/><circle cx="402.4" cy="133.2" r="1.15"/><circle cx="404.8" cy="139.1" r="1.15"/><circle cx="416.3" cy="143.9" r="1.15"/><circle cx="441.4" cy="131.1" r="1.15"/><circle cx="423.9" cy="119.6" r="1.15"/><circle cx="408.4" cy="140.7" r="1.15"/><circle cx="423.0" cy="129.2" r="1.15"/><circle cx="403.5" cy="137.5" r="1.15"/><circle cx="384.1" cy="107.6" r="1.15"/><circle cx="403.4" cy="143.1" r="1.15"/><circle cx="408.7" cy="142.6" r="1.15"/><circle cx="380.5" cy="92.4" r="1.15"/><circle cx="390.2" cy="123.1" r="1.15"/><circle cx="420.9" cy="138.6" r="1.15"/><circle cx="417.2" cy="138.7" r="1.15"/><circle cx="389.5" cy="129.4" r="1.15"/><circle cx="419.1" cy="141.9" r="1.15"/><circle cx="381.9" cy="131.7" r="1.15"/><circle cx="420.7" cy="137.3" r="1.15"/><circle cx="418.8" cy="142.2" r="1.15"/><circle cx="404.3" cy="142.3" r="1.15"/><circle cx="394.7" cy="113.8" r="1.15"/><circle cx="426.7" cy="124.3" r="1.15"/><circle cx="410.1" cy="144.3" r="1.15"/><circle cx="412.5" cy="143.9" r="1.15"/><circle cx="408.6" cy="142.7" r="1.15"/><circle cx="389.4" cy="135.7" r="1.15"/><circle cx="405.9" cy="142.5" r="1.15"/><circle cx="414.7" cy="142.0" r="1.15"/><circle cx="382.6" cy="118.2" r="1.15"/><circle cx="399.9" cy="130.9" r="1.15"/><circle cx="413.0" cy="142.2" r="1.15"/><circle cx="416.6" cy="143.6" r="1.15"/><circle cx="400.8" cy="139.7" r="1.15"/><circle cx="425.8" cy="133.6" r="1.15"/><circle cx="419.7" cy="138.1" r="1.15"/><circle cx="419.3" cy="132.4" r="1.15"/><circle cx="387.9" cy="127.3" r="1.15"/><circle cx="411.7" cy="144.0" r="1.15"/><circle cx="412.7" cy="143.7" r="1.15"/><circle cx="431.4" cy="135.7" r="1.15"/><circle cx="388.3" cy="98.0" r="1.15"/><circle cx="399.9" cy="130.2" r="1.15"/><circle cx="397.4" cy="133.1" r="1.15"/><circle cx="400.3" cy="141.4" r="1.15"/><circle cx="414.8" cy="144.0" r="1.15"/><circle cx="388.7" cy="127.4" r="1.15"/><circle cx="405.1" cy="142.7" r="1.15"/><circle cx="407.5" cy="140.3" r="1.15"/><circle cx="400.8" cy="137.4" r="1.15"/><circle cx="424.4" cy="138.0" r="1.15"/><circle cx="409.6" cy="142.2" r="1.15"/><circle cx="438.3" cy="122.4" r="1.15"/><circle cx="399.9" cy="141.6" r="1.15"/><circle cx="406.9" cy="136.8" r="1.15"/><circle cx="398.1" cy="131.6" r="1.15"/><circle cx="419.2" cy="142.9" r="1.15"/><circle cx="397.0" cy="126.2" r="1.15"/><circle cx="412.1" cy="143.3" r="1.15"/><circle cx="396.2" cy="120.1" r="1.15"/><circle cx="406.6" cy="143.1" r="1.15"/><circle cx="418.8" cy="141.4" r="1.15"/><circle cx="415.4" cy="138.1" r="1.15"/><circle cx="421.1" cy="138.2" r="1.15"/><circle cx="421.0" cy="132.6" r="1.15"/><circle cx="410.3" cy="143.2" r="1.15"/><circle cx="399.7" cy="141.4" r="1.15"/><circle cx="426.5" cy="130.2" r="1.15"/><circle cx="417.7" cy="141.0" r="1.15"/><circle cx="417.9" cy="140.6" r="1.15"/><circle cx="429.3" cy="128.3" r="1.15"/><circle cx="441.2" cy="104.2" r="1.15"/><circle cx="413.3" cy="140.7" r="1.15"/><circle cx="399.8" cy="135.9" r="1.15"/><circle cx="409.7" cy="142.7" r="1.15"/><circle cx="426.1" cy="131.8" r="1.15"/><circle cx="408.1" cy="141.6" r="1.15"/><circle cx="407.3" cy="140.3" r="1.15"/><circle cx="393.0" cy="137.5" r="1.15"/><circle cx="409.1" cy="142.1" r="1.15"/><circle cx="405.1" cy="139.2" r="1.15"/><circle cx="398.2" cy="130.2" r="1.15"/><circle cx="383.4" cy="134.8" r="1.15"/><circle cx="406.8" cy="143.5" r="1.15"/><circle cx="429.7" cy="133.6" r="1.15"/><circle cx="414.0" cy="142.6" r="1.15"/><circle cx="413.6" cy="142.5" r="1.15"/><circle cx="397.1" cy="135.1" r="1.15"/><circle cx="385.1" cy="127.1" r="1.15"/><circle cx="379.7" cy="113.2" r="1.15"/><circle cx="387.3" cy="130.8" r="1.15"/><circle cx="399.8" cy="134.8" r="1.15"/><circle cx="393.4" cy="122.3" r="1.15"/><circle cx="409.7" cy="143.4" r="1.15"/><circle cx="401.0" cy="132.8" r="1.15"/><circle cx="410.3" cy="143.6" r="1.15"/><circle cx="424.1" cy="133.9" r="1.15"/><circle cx="414.9" cy="140.3" r="1.15"/><circle cx="402.8" cy="137.2" r="1.15"/><circle cx="412.7" cy="142.3" r="1.15"/><circle cx="416.1" cy="134.9" r="1.15"/><circle cx="404.1" cy="133.2" r="1.15"/><circle cx="409.4" cy="143.8" r="1.15"/><circle cx="388.9" cy="124.9" r="1.15"/><circle cx="419.1" cy="138.7" r="1.15"/><circle cx="415.4" cy="143.7" r="1.15"/><circle cx="379.6" cy="131.1" r="1.15"/><circle cx="430.0" cy="136.9" r="1.15"/><circle cx="408.2" cy="140.4" r="1.15"/><circle cx="397.7" cy="137.4" r="1.15"/><circle cx="416.5" cy="136.4" r="1.15"/><circle cx="426.4" cy="131.7" r="1.15"/><circle cx="445.2" cy="97.2" r="1.15"/><circle cx="415.4" cy="143.5" r="1.15"/><circle cx="424.3" cy="129.2" r="1.15"/><circle cx="417.1" cy="138.1" r="1.15"/><circle cx="432.8" cy="119.8" r="1.15"/><circle cx="413.5" cy="139.1" r="1.15"/><circle cx="408.3" cy="142.8" r="1.15"/><circle cx="419.4" cy="141.9" r="1.15"/><circle cx="401.1" cy="131.5" r="1.15"/><circle cx="415.6" cy="135.3" r="1.15"/><circle cx="411.7" cy="143.6" r="1.15"/><circle cx="398.3" cy="140.9" r="1.15"/><circle cx="427.5" cy="129.4" r="1.15"/><circle cx="423.9" cy="141.9" r="1.15"/><circle cx="429.7" cy="137.3" r="1.15"/><circle cx="402.9" cy="139.7" r="1.15"/><circle cx="420.0" cy="135.0" r="1.15"/><circle cx="424.7" cy="135.0" r="1.15"/><circle cx="422.4" cy="142.7" r="1.15"/><circle cx="399.3" cy="140.7" r="1.15"/><circle cx="395.1" cy="141.4" r="1.15"/><circle cx="401.9" cy="135.7" r="1.15"/><circle cx="415.4" cy="142.9" r="1.15"/><circle cx="437.8" cy="137.0" r="1.15"/><circle cx="400.7" cy="137.1" r="1.15"/><circle cx="400.3" cy="140.8" r="1.15"/><circle cx="408.7" cy="142.9" r="1.15"/><circle cx="424.6" cy="117.7" r="1.15"/><circle cx="435.0" cy="126.2" r="1.15"/><circle cx="388.9" cy="127.0" r="1.15"/><circle cx="413.6" cy="144.0" r="1.15"/><circle cx="408.9" cy="143.2" r="1.15"/><circle cx="426.0" cy="130.4" r="1.15"/><circle cx="414.3" cy="141.2" r="1.15"/><circle cx="411.7" cy="143.9" r="1.15"/><circle cx="383.2" cy="108.4" r="1.15"/><circle cx="377.8" cy="108.6" r="1.15"/><circle cx="403.0" cy="141.8" r="1.15"/><circle cx="412.7" cy="142.2" r="1.15"/><circle cx="397.5" cy="133.5" r="1.15"/><circle cx="380.1" cy="107.3" r="1.15"/><circle cx="394.3" cy="133.9" r="1.15"/><circle cx="402.1" cy="138.6" r="1.15"/><circle cx="405.9" cy="142.4" r="1.15"/><circle cx="387.1" cy="128.1" r="1.15"/><circle cx="444.5" cy="84.6" r="1.15"/><circle cx="425.7" cy="120.5" r="1.15"/><circle cx="414.4" cy="144.1" r="1.15"/><circle cx="422.9" cy="141.4" r="1.15"/><circle cx="407.1" cy="142.1" r="1.15"/><circle cx="424.2" cy="133.0" r="1.15"/><circle cx="396.8" cy="127.5" r="1.15"/><circle cx="413.6" cy="140.9" r="1.15"/><circle cx="398.4" cy="122.1" r="1.15"/><circle cx="410.6" cy="143.5" r="1.15"/><circle cx="415.5" cy="141.5" r="1.15"/><circle cx="379.8" cy="130.2" r="1.15"/><circle cx="411.6" cy="144.0" r="1.15"/><circle cx="398.8" cy="140.1" r="1.15"/><circle cx="435.6" cy="126.4" r="1.15"/><circle cx="405.8" cy="143.4" r="1.15"/><circle cx="395.1" cy="128.9" r="1.15"/><circle cx="422.8" cy="123.2" r="1.15"/><circle cx="417.9" cy="137.6" r="1.15"/><circle cx="394.8" cy="136.6" r="1.15"/><circle cx="420.0" cy="123.3" r="1.15"/><circle cx="416.2" cy="140.0" r="1.15"/><circle cx="414.3" cy="143.6" r="1.15"/><circle cx="400.8" cy="130.7" r="1.15"/><circle cx="395.6" cy="129.4" r="1.15"/><circle cx="415.9" cy="142.6" r="1.15"/><circle cx="407.0" cy="139.3" r="1.15"/><circle cx="413.3" cy="143.1" r="1.15"/><circle cx="436.2" cy="133.6" r="1.15"/><circle cx="398.5" cy="142.1" r="1.15"/><circle cx="387.8" cy="100.3" r="1.15"/><circle cx="415.0" cy="140.9" r="1.15"/><circle cx="411.8" cy="142.8" r="1.15"/><circle cx="428.8" cy="133.9" r="1.15"/><circle cx="396.1" cy="139.7" r="1.15"/><circle cx="399.0" cy="134.7" r="1.15"/><circle cx="422.1" cy="139.0" r="1.15"/><circle cx="393.6" cy="140.8" r="1.15"/><circle cx="396.2" cy="136.0" r="1.15"/><circle cx="404.7" cy="140.9" r="1.15"/><circle cx="425.2" cy="140.1" r="1.15"/><circle cx="403.7" cy="138.0" r="1.15"/><circle cx="406.4" cy="137.5" r="1.15"/><circle cx="403.9" cy="142.4" r="1.15"/><circle cx="409.8" cy="142.4" r="1.15"/><circle cx="423.4" cy="131.7" r="1.15"/><circle cx="400.4" cy="136.4" r="1.15"/><circle cx="382.1" cy="127.3" r="1.15"/><circle cx="393.6" cy="132.5" r="1.15"/><circle cx="378.2" cy="126.5" r="1.15"/><circle cx="420.7" cy="135.3" r="1.15"/><circle cx="405.9" cy="140.8" r="1.15"/><circle cx="390.1" cy="128.1" r="1.15"/><circle cx="378.1" cy="107.4" r="1.15"/><circle cx="403.2" cy="132.2" r="1.15"/><circle cx="406.5" cy="143.5" r="1.15"/><circle cx="420.1" cy="132.2" r="1.15"/><circle cx="442.3" cy="96.4" r="1.15"/><circle cx="429.4" cy="134.8" r="1.15"/><circle cx="389.9" cy="130.5" r="1.15"/><circle cx="413.5" cy="142.3" r="1.15"/><circle cx="387.4" cy="139.2" r="1.15"/><circle cx="429.4" cy="123.3" r="1.15"/><circle cx="397.3" cy="130.7" r="1.15"/><circle cx="391.5" cy="133.6" r="1.15"/><circle cx="412.9" cy="144.3" r="1.15"/><circle cx="395.0" cy="124.7" r="1.15"/><circle cx="424.0" cy="132.8" r="1.15"/><circle cx="395.1" cy="137.3" r="1.15"/><circle cx="411.7" cy="143.1" r="1.15"/><circle cx="380.1" cy="73.9" r="1.15"/><circle cx="383.6" cy="133.7" r="1.15"/><circle cx="420.1" cy="141.2" r="1.15"/><circle cx="409.2" cy="142.6" r="1.15"/><circle cx="419.7" cy="137.9" r="1.15"/><circle cx="381.8" cy="84.1" r="1.15"/><circle cx="398.6" cy="138.7" r="1.15"/><circle cx="377.8" cy="126.5" r="1.15"/><circle cx="390.7" cy="139.3" r="1.15"/><circle cx="406.0" cy="140.8" r="1.15"/><circle cx="389.4" cy="136.2" r="1.15"/><circle cx="397.9" cy="133.3" r="1.15"/><circle cx="412.2" cy="142.6" r="1.15"/><circle cx="381.2" cy="131.0" r="1.15"/><circle cx="418.8" cy="143.3" r="1.15"/><circle cx="378.4" cy="104.8" r="1.15"/><circle cx="412.1" cy="144.0" r="1.15"/><circle cx="408.6" cy="141.5" r="1.15"/><circle cx="435.3" cy="117.8" r="1.15"/><circle cx="403.4" cy="143.7" r="1.15"/><circle cx="411.1" cy="144.1" r="1.15"/><circle cx="410.7" cy="143.6" r="1.15"/><circle cx="413.8" cy="142.1" r="1.15"/><circle cx="411.9" cy="143.4" r="1.15"/><circle cx="443.0" cy="100.0" r="1.15"/><circle cx="426.3" cy="139.0" r="1.15"/><circle cx="415.5" cy="142.9" r="1.15"/><circle cx="430.9" cy="139.4" r="1.15"/><circle cx="424.9" cy="135.8" r="1.15"/><circle cx="410.4" cy="143.8" r="1.15"/><circle cx="418.5" cy="139.9" r="1.15"/><circle cx="410.0" cy="143.7" r="1.15"/><circle cx="385.3" cy="102.3" r="1.15"/><circle cx="407.9" cy="139.9" r="1.15"/><circle cx="427.9" cy="131.5" r="1.15"/><circle cx="404.6" cy="136.0" r="1.15"/><circle cx="408.2" cy="143.4" r="1.15"/><circle cx="407.5" cy="139.6" r="1.15"/><circle cx="407.4" cy="138.9" r="1.15"/><circle cx="415.2" cy="137.9" r="1.15"/><circle cx="390.0" cy="134.8" r="1.15"/><circle cx="403.5" cy="135.5" r="1.15"/><circle cx="402.9" cy="134.5" r="1.15"/><circle cx="415.1" cy="143.1" r="1.15"/><circle cx="436.3" cy="132.3" r="1.15"/><circle cx="421.2" cy="140.3" r="1.15"/><circle cx="378.2" cy="123.2" r="1.15"/><circle cx="405.7" cy="142.5" r="1.15"/><circle cx="422.3" cy="135.5" r="1.15"/><circle cx="427.5" cy="140.3" r="1.15"/><circle cx="426.1" cy="139.4" r="1.15"/><circle cx="430.7" cy="133.2" r="1.15"/><circle cx="398.8" cy="134.3" r="1.15"/><circle cx="442.2" cy="85.7" r="1.15"/><circle cx="384.3" cy="120.9" r="1.15"/><circle cx="437.0" cy="113.4" r="1.15"/><circle cx="403.3" cy="138.9" r="1.15"/><circle cx="402.1" cy="137.4" r="1.15"/><circle cx="428.7" cy="132.3" r="1.15"/><circle cx="432.0" cy="138.9" r="1.15"/><circle cx="425.1" cy="131.3" r="1.15"/><circle cx="434.7" cy="119.2" r="1.15"/><circle cx="418.9" cy="139.7" r="1.15"/><circle cx="381.2" cy="109.0" r="1.15"/><circle cx="438.7" cy="104.4" r="1.15"/><circle cx="412.1" cy="143.6" r="1.15"/><circle cx="405.9" cy="139.1" r="1.15"/><circle cx="395.5" cy="124.5" r="1.15"/><circle cx="412.4" cy="143.6" r="1.15"/><circle cx="423.9" cy="136.2" r="1.15"/><circle cx="432.0" cy="98.7" r="1.15"/><circle cx="413.3" cy="143.3" r="1.15"/><circle cx="399.1" cy="138.4" r="1.15"/><circle cx="429.1" cy="117.5" r="1.15"/><circle cx="416.8" cy="138.9" r="1.15"/><circle cx="409.9" cy="143.6" r="1.15"/><circle cx="422.5" cy="141.1" r="1.15"/><circle cx="407.1" cy="142.6" r="1.15"/><circle cx="422.2" cy="137.8" r="1.15"/><circle cx="436.9" cy="137.1" r="1.15"/><circle cx="382.9" cy="113.2" r="1.15"/><circle cx="378.3" cy="104.3" r="1.15"/><circle cx="436.7" cy="123.7" r="1.15"/><circle cx="412.5" cy="143.6" r="1.15"/><circle cx="426.2" cy="134.5" r="1.15"/><circle cx="408.2" cy="143.6" r="1.15"/><circle cx="425.6" cy="138.7" r="1.15"/><circle cx="421.1" cy="140.4" r="1.15"/><circle cx="418.5" cy="140.0" r="1.15"/><circle cx="413.9" cy="143.2" r="1.15"/><circle cx="419.7" cy="128.9" r="1.15"/><circle cx="408.7" cy="143.0" r="1.15"/><circle cx="421.9" cy="128.0" r="1.15"/><circle cx="409.8" cy="144.0" r="1.15"/><circle cx="395.4" cy="141.3" r="1.15"/><circle cx="407.8" cy="140.3" r="1.15"/><circle cx="415.3" cy="143.0" r="1.15"/><circle cx="425.8" cy="137.0" r="1.15"/><circle cx="408.5" cy="141.4" r="1.15"/><circle cx="404.7" cy="142.2" r="1.15"/><circle cx="392.9" cy="127.9" r="1.15"/><circle cx="429.1" cy="118.8" r="1.15"/><circle cx="377.6" cy="121.6" r="1.15"/><circle cx="402.4" cy="136.5" r="1.15"/><circle cx="394.1" cy="127.3" r="1.15"/><circle cx="421.9" cy="139.4" r="1.15"/><circle cx="408.0" cy="143.3" r="1.15"/><circle cx="402.0" cy="133.2" r="1.15"/><circle cx="411.0" cy="144.3" r="1.15"/><circle cx="402.2" cy="142.9" r="1.15"/><circle cx="425.1" cy="119.6" r="1.15"/><circle cx="408.9" cy="144.0" r="1.15"/><circle cx="428.2" cy="124.3" r="1.15"/><circle cx="391.8" cy="133.2" r="1.15"/><circle cx="399.5" cy="133.1" r="1.15"/><circle cx="408.9" cy="143.0" r="1.15"/><circle cx="388.6" cy="138.5" r="1.15"/><circle cx="399.6" cy="118.2" r="1.15"/><circle cx="400.6" cy="138.0" r="1.15"/><circle cx="411.7" cy="143.3" r="1.15"/><circle cx="425.4" cy="129.9" r="1.15"/><circle cx="402.8" cy="142.8" r="1.15"/><circle cx="411.2" cy="143.7" r="1.15"/><circle cx="402.5" cy="132.3" r="1.15"/><circle cx="406.4" cy="143.2" r="1.15"/><circle cx="408.8" cy="142.7" r="1.15"/><circle cx="429.4" cy="138.0" r="1.15"/><circle cx="405.4" cy="138.5" r="1.15"/><circle cx="407.9" cy="143.0" r="1.15"/><circle cx="378.0" cy="90.9" r="1.15"/><circle cx="444.0" cy="116.7" r="1.15"/><circle cx="423.1" cy="136.2" r="1.15"/><circle cx="408.7" cy="142.3" r="1.15"/><circle cx="414.2" cy="140.2" r="1.15"/><circle cx="421.1" cy="134.9" r="1.15"/><circle cx="409.1" cy="140.6" r="1.15"/><circle cx="386.3" cy="125.9" r="1.15"/><circle cx="414.0" cy="140.5" r="1.15"/><circle cx="436.0" cy="133.3" r="1.15"/><circle cx="414.0" cy="143.7" r="1.15"/><circle cx="421.3" cy="134.0" r="1.15"/><circle cx="397.9" cy="141.8" r="1.15"/><circle cx="413.4" cy="143.3" r="1.15"/><circle cx="416.3" cy="142.6" r="1.15"/><circle cx="423.3" cy="137.3" r="1.15"/><circle cx="391.7" cy="138.0" r="1.15"/><circle cx="404.1" cy="130.5" r="1.15"/><circle cx="420.8" cy="143.3" r="1.15"/><circle cx="406.6" cy="143.3" r="1.15"/><circle cx="401.4" cy="140.2" r="1.15"/><circle cx="394.3" cy="126.3" r="1.15"/><circle cx="379.0" cy="123.9" r="1.15"/><circle cx="421.5" cy="132.0" r="1.15"/><circle cx="394.2" cy="136.9" r="1.15"/><circle cx="383.9" cy="129.7" r="1.15"/><circle cx="390.7" cy="139.1" r="1.15"/><circle cx="384.2" cy="133.3" r="1.15"/><circle cx="435.0" cy="110.3" r="1.15"/><circle cx="420.3" cy="142.0" r="1.15"/><circle cx="406.1" cy="139.6" r="1.15"/><circle cx="430.0" cy="139.3" r="1.15"/><circle cx="412.0" cy="143.1" r="1.15"/><circle cx="413.0" cy="142.8" r="1.15"/><circle cx="427.7" cy="128.3" r="1.15"/><circle cx="414.0" cy="141.5" r="1.15"/><circle cx="393.8" cy="124.7" r="1.15"/><circle cx="412.6" cy="143.9" r="1.15"/><circle cx="422.9" cy="134.2" r="1.15"/><circle cx="401.6" cy="126.1" r="1.15"/><circle cx="422.3" cy="129.9" r="1.15"/><circle cx="401.0" cy="129.7" r="1.15"/><circle cx="399.6" cy="137.6" r="1.15"/><circle cx="430.1" cy="115.9" r="1.15"/><circle cx="393.2" cy="131.9" r="1.15"/><circle cx="405.7" cy="136.6" r="1.15"/><circle cx="415.3" cy="135.9" r="1.15"/><circle cx="398.6" cy="138.4" r="1.15"/><circle cx="399.1" cy="141.5" r="1.15"/><circle cx="405.0" cy="132.2" r="1.15"/><circle cx="407.9" cy="143.0" r="1.15"/><circle cx="402.9" cy="138.5" r="1.15"/><circle cx="401.4" cy="137.1" r="1.15"/><circle cx="405.8" cy="143.8" r="1.15"/><circle cx="419.4" cy="126.3" r="1.15"/><circle cx="419.3" cy="143.4" r="1.15"/><circle cx="383.2" cy="112.0" r="1.15"/><circle cx="420.1" cy="129.0" r="1.15"/><circle cx="385.9" cy="121.5" r="1.15"/><circle cx="405.8" cy="142.8" r="1.15"/><circle cx="410.3" cy="143.4" r="1.15"/><circle cx="401.8" cy="132.1" r="1.15"/><circle cx="416.9" cy="139.7" r="1.15"/><circle cx="416.5" cy="137.3" r="1.15"/><circle cx="426.7" cy="116.7" r="1.15"/><circle cx="407.0" cy="140.3" r="1.15"/><circle cx="409.4" cy="143.9" r="1.15"/><circle cx="392.8" cy="134.8" r="1.15"/><circle cx="421.2" cy="143.0" r="1.15"/><circle cx="417.4" cy="140.1" r="1.15"/><circle cx="392.2" cy="123.4" r="1.15"/><circle cx="401.5" cy="138.9" r="1.15"/><circle cx="407.0" cy="141.9" r="1.15"/><circle cx="380.9" cy="105.5" r="1.15"/><circle cx="408.0" cy="141.1" r="1.15"/><circle cx="387.3" cy="100.1" r="1.15"/><circle cx="403.5" cy="142.0" r="1.15"/><circle cx="409.8" cy="142.9" r="1.15"/><circle cx="412.9" cy="140.5" r="1.15"/><circle cx="406.2" cy="143.4" r="1.15"/><circle cx="426.7" cy="130.8" r="1.15"/><circle cx="424.2" cy="139.5" r="1.15"/><circle cx="377.1" cy="127.8" r="1.15"/><circle cx="418.7" cy="135.8" r="1.15"/><circle cx="406.9" cy="143.0" r="1.15"/><circle cx="406.6" cy="139.6" r="1.15"/><circle cx="413.2" cy="144.3" r="1.15"/><circle cx="400.6" cy="138.0" r="1.15"/><circle cx="412.1" cy="143.5" r="1.15"/><circle cx="398.9" cy="138.0" r="1.15"/><circle cx="412.7" cy="143.4" r="1.15"/><circle cx="407.6" cy="141.4" r="1.15"/><circle cx="432.8" cy="122.1" r="1.15"/><circle cx="435.4" cy="123.8" r="1.15"/><circle cx="403.6" cy="137.6" r="1.15"/><circle cx="401.5" cy="142.9" r="1.15"/><circle cx="404.1" cy="140.9" r="1.15"/><circle cx="422.0" cy="134.7" r="1.15"/><circle cx="378.3" cy="107.0" r="1.15"/><circle cx="407.7" cy="141.6" r="1.15"/><circle cx="405.7" cy="143.0" r="1.15"/><circle cx="407.4" cy="140.9" r="1.15"/><circle cx="417.9" cy="143.1" r="1.15"/><circle cx="410.9" cy="143.8" r="1.15"/><circle cx="384.7" cy="119.6" r="1.15"/><circle cx="389.5" cy="134.0" r="1.15"/><circle cx="408.5" cy="143.8" r="1.15"/><circle cx="410.2" cy="143.4" r="1.15"/><circle cx="414.0" cy="144.2" r="1.15"/><circle cx="405.4" cy="143.1" r="1.15"/><circle cx="423.9" cy="122.8" r="1.15"/><circle cx="398.3" cy="132.6" r="1.15"/><circle cx="425.4" cy="139.8" r="1.15"/><circle cx="426.2" cy="138.3" r="1.15"/><circle cx="444.4" cy="104.1" r="1.15"/><circle cx="436.2" cy="123.0" r="1.15"/><circle cx="418.2" cy="139.9" r="1.15"/><circle cx="397.8" cy="131.3" r="1.15"/><circle cx="408.3" cy="141.4" r="1.15"/><circle cx="422.3" cy="139.1" r="1.15"/><circle cx="416.5" cy="142.5" r="1.15"/><circle cx="399.8" cy="143.2" r="1.15"/><circle cx="434.8" cy="116.9" r="1.15"/><circle cx="424.3" cy="126.9" r="1.15"/><circle cx="413.8" cy="140.2" r="1.15"/><circle cx="395.6" cy="126.7" r="1.15"/><circle cx="396.7" cy="140.8" r="1.15"/><circle cx="406.9" cy="141.7" r="1.15"/><circle cx="417.6" cy="141.2" r="1.15"/><circle cx="387.0" cy="101.3" r="1.15"/><circle cx="443.0" cy="96.5" r="1.15"/><circle cx="439.6" cy="120.3" r="1.15"/><circle cx="409.8" cy="143.9" r="1.15"/><circle cx="423.3" cy="138.1" r="1.15"/><circle cx="395.8" cy="117.4" r="1.15"/><circle cx="397.5" cy="139.1" r="1.15"/><circle cx="404.5" cy="143.9" r="1.15"/><circle cx="419.7" cy="139.4" r="1.15"/><circle cx="429.4" cy="118.6" r="1.15"/><circle cx="418.9" cy="143.1" r="1.15"/><circle cx="382.8" cy="101.7" r="1.15"/><circle cx="416.7" cy="139.4" r="1.15"/><circle cx="406.4" cy="137.6" r="1.15"/><circle cx="404.1" cy="141.4" r="1.15"/><circle cx="423.7" cy="136.8" r="1.15"/><circle cx="410.5" cy="144.3" r="1.15"/><circle cx="390.5" cy="121.0" r="1.15"/><circle cx="445.0" cy="116.5" r="1.15"/><circle cx="385.9" cy="136.0" r="1.15"/><circle cx="411.7" cy="143.7" r="1.15"/><circle cx="394.5" cy="125.0" r="1.15"/><circle cx="414.4" cy="143.8" r="1.15"/><circle cx="399.5" cy="134.6" r="1.15"/><circle cx="416.4" cy="142.8" r="1.15"/><circle cx="416.9" cy="139.0" r="1.15"/><circle cx="402.6" cy="137.6" r="1.15"/><circle cx="409.9" cy="143.2" r="1.15"/><circle cx="426.5" cy="135.7" r="1.15"/><circle cx="383.2" cy="104.5" r="1.15"/><circle cx="427.9" cy="135.9" r="1.15"/><circle cx="437.0" cy="136.7" r="1.15"/><circle cx="406.2" cy="139.7" r="1.15"/><circle cx="409.5" cy="143.1" r="1.15"/><circle cx="415.5" cy="139.3" r="1.15"/><circle cx="391.3" cy="128.6" r="1.15"/><circle cx="422.4" cy="135.9" r="1.15"/><circle cx="412.7" cy="141.6" r="1.15"/><circle cx="410.4" cy="143.4" r="1.15"/><circle cx="411.9" cy="143.9" r="1.15"/><circle cx="421.0" cy="136.7" r="1.15"/><circle cx="420.6" cy="127.3" r="1.15"/><circle cx="413.5" cy="141.3" r="1.15"/><circle cx="413.5" cy="143.4" r="1.15"/><circle cx="444.9" cy="126.7" r="1.15"/><circle cx="410.2" cy="143.8" r="1.15"/><circle cx="409.1" cy="141.4" r="1.15"/><circle cx="390.3" cy="113.0" r="1.15"/><circle cx="404.7" cy="143.7" r="1.15"/><circle cx="407.5" cy="143.1" r="1.15"/><circle cx="378.6" cy="125.5" r="1.15"/><circle cx="415.3" cy="142.7" r="1.15"/><circle cx="409.8" cy="143.9" r="1.15"/><circle cx="404.2" cy="135.1" r="1.15"/><circle cx="392.8" cy="130.4" r="1.15"/><circle cx="407.2" cy="143.9" r="1.15"/><circle cx="401.7" cy="134.2" r="1.15"/><circle cx="407.7" cy="142.5" r="1.15"/><circle cx="402.5" cy="133.7" r="1.15"/><circle cx="402.5" cy="134.5" r="1.15"/><circle cx="414.3" cy="141.0" r="1.15"/><circle cx="399.2" cy="133.2" r="1.15"/><circle cx="386.1" cy="115.4" r="1.15"/><circle cx="426.5" cy="138.0" r="1.15"/><circle cx="392.1" cy="140.8" r="1.15"/><circle cx="406.3" cy="135.9" r="1.15"/><circle cx="415.8" cy="137.1" r="1.15"/><circle cx="396.8" cy="125.8" r="1.15"/><circle cx="416.6" cy="143.6" r="1.15"/><circle cx="405.4" cy="141.5" r="1.15"/><circle cx="376.7" cy="130.6" r="1.15"/><circle cx="419.0" cy="142.4" r="1.15"/><circle cx="413.2" cy="143.3" r="1.15"/><circle cx="416.5" cy="135.2" r="1.15"/><circle cx="429.3" cy="137.0" r="1.15"/><circle cx="433.3" cy="137.6" r="1.15"/><circle cx="423.6" cy="139.7" r="1.15"/><circle cx="409.4" cy="142.6" r="1.15"/><circle cx="389.0" cy="116.3" r="1.15"/><circle cx="440.2" cy="122.7" r="1.15"/><circle cx="395.5" cy="133.5" r="1.15"/><circle cx="408.6" cy="143.3" r="1.15"/><circle cx="405.0" cy="133.1" r="1.15"/><circle cx="414.4" cy="143.9" r="1.15"/><circle cx="433.5" cy="124.8" r="1.15"/><circle cx="378.0" cy="111.9" r="1.15"/><circle cx="430.4" cy="131.8" r="1.15"/><circle cx="421.2" cy="136.1" r="1.15"/><circle cx="394.7" cy="127.4" r="1.15"/><circle cx="444.5" cy="118.4" r="1.15"/><circle cx="415.3" cy="143.6" r="1.15"/><circle cx="432.1" cy="126.0" r="1.15"/><circle cx="429.0" cy="137.1" r="1.15"/><circle cx="412.2" cy="143.8" r="1.15"/><circle cx="425.7" cy="141.3" r="1.15"/><circle cx="432.2" cy="128.8" r="1.15"/><circle cx="399.4" cy="119.9" r="1.15"/><circle cx="387.7" cy="125.8" r="1.15"/><circle cx="382.0" cy="136.2" r="1.15"/><circle cx="431.7" cy="125.6" r="1.15"/><circle cx="403.2" cy="143.0" r="1.15"/><circle cx="390.6" cy="130.9" r="1.15"/><circle cx="391.9" cy="116.5" r="1.15"/><circle cx="409.8" cy="143.0" r="1.15"/><circle cx="419.6" cy="130.3" r="1.15"/><circle cx="409.0" cy="142.4" r="1.15"/><circle cx="422.7" cy="139.0" r="1.15"/><circle cx="442.9" cy="101.2" r="1.15"/><circle cx="415.6" cy="138.8" r="1.15"/><circle cx="382.1" cy="109.6" r="1.15"/><circle cx="414.4" cy="142.3" r="1.15"/><circle cx="398.5" cy="126.3" r="1.15"/><circle cx="425.7" cy="137.8" r="1.15"/><circle cx="412.6" cy="142.1" r="1.15"/><circle cx="412.9" cy="143.1" r="1.15"/><circle cx="401.9" cy="141.6" r="1.15"/><circle cx="417.0" cy="139.5" r="1.15"/><circle cx="420.6" cy="130.0" r="1.15"/><circle cx="388.7" cy="129.8" r="1.15"/><circle cx="405.8" cy="136.2" r="1.15"/><circle cx="405.6" cy="143.4" r="1.15"/><circle cx="414.8" cy="143.4" r="1.15"/><circle cx="424.1" cy="140.9" r="1.15"/><circle cx="436.9" cy="130.1" r="1.15"/><circle cx="424.3" cy="139.1" r="1.15"/><circle cx="402.9" cy="143.7" r="1.15"/><circle cx="410.3" cy="142.9" r="1.15"/><circle cx="394.9" cy="132.6" r="1.15"/><circle cx="395.6" cy="119.4" r="1.15"/><circle cx="404.9" cy="137.1" r="1.15"/><circle cx="430.8" cy="129.8" r="1.15"/><circle cx="381.3" cy="136.1" r="1.15"/><circle cx="424.2" cy="141.8" r="1.15"/><circle cx="409.2" cy="143.4" r="1.15"/><circle cx="392.0" cy="135.5" r="1.15"/><circle cx="425.0" cy="136.0" r="1.15"/><circle cx="412.6" cy="139.9" r="1.15"/><circle cx="426.2" cy="133.9" r="1.15"/><circle cx="397.7" cy="127.5" r="1.15"/><circle cx="411.9" cy="143.3" r="1.15"/><circle cx="401.8" cy="133.5" r="1.15"/><circle cx="398.2" cy="116.9" r="1.15"/><circle cx="413.2" cy="141.0" r="1.15"/><circle cx="400.8" cy="139.1" r="1.15"/><circle cx="402.4" cy="143.1" r="1.15"/><circle cx="394.8" cy="136.2" r="1.15"/><circle cx="391.5" cy="134.1" r="1.15"/><circle cx="410.8" cy="144.3" r="1.15"/><circle cx="394.3" cy="125.9" r="1.15"/><circle cx="421.6" cy="135.1" r="1.15"/><circle cx="409.6" cy="144.1" r="1.15"/><circle cx="411.8" cy="143.5" r="1.15"/><circle cx="428.1" cy="139.3" r="1.15"/><circle cx="425.5" cy="138.4" r="1.15"/><circle cx="405.5" cy="136.7" r="1.15"/><circle cx="414.2" cy="140.2" r="1.15"/><circle cx="385.1" cy="117.7" r="1.15"/><circle cx="417.0" cy="140.4" r="1.15"/><circle cx="401.3" cy="128.6" r="1.15"/><circle cx="391.1" cy="136.8" r="1.15"/><circle cx="411.9" cy="144.2" r="1.15"/><circle cx="422.8" cy="135.8" r="1.15"/><circle cx="413.7" cy="138.8" r="1.15"/><circle cx="411.9" cy="144.2" r="1.15"/><circle cx="426.2" cy="135.5" r="1.15"/><circle cx="403.8" cy="138.8" r="1.15"/><circle cx="438.6" cy="117.1" r="1.15"/><circle cx="396.0" cy="137.4" r="1.15"/><circle cx="405.3" cy="136.3" r="1.15"/><circle cx="389.5" cy="123.0" r="1.15"/><circle cx="416.7" cy="139.1" r="1.15"/><circle cx="436.0" cy="135.4" r="1.15"/><circle cx="410.7" cy="144.0" r="1.15"/><circle cx="394.8" cy="121.8" r="1.15"/><circle cx="411.9" cy="143.2" r="1.15"/><circle cx="398.2" cy="128.8" r="1.15"/><circle cx="431.3" cy="137.3" r="1.15"/><circle cx="420.3" cy="134.9" r="1.15"/><circle cx="403.0" cy="142.3" r="1.15"/><circle cx="412.3" cy="142.5" r="1.15"/><circle cx="398.1" cy="126.4" r="1.15"/><circle cx="387.1" cy="128.6" r="1.15"/><circle cx="404.9" cy="135.6" r="1.15"/><circle cx="424.1" cy="135.6" r="1.15"/><circle cx="415.7" cy="137.6" r="1.15"/><circle cx="417.6" cy="141.8" r="1.15"/><circle cx="414.1" cy="141.5" r="1.15"/><circle cx="422.1" cy="142.1" r="1.15"/><circle cx="418.7" cy="139.1" r="1.15"/><circle cx="406.9" cy="139.7" r="1.15"/><circle cx="400.1" cy="141.7" r="1.15"/><circle cx="392.2" cy="127.5" r="1.15"/><circle cx="419.8" cy="135.5" r="1.15"/><circle cx="409.5" cy="144.1" r="1.15"/><circle cx="412.9" cy="141.8" r="1.15"/><circle cx="412.6" cy="142.5" r="1.15"/><circle cx="412.5" cy="142.4" r="1.15"/><circle cx="408.7" cy="144.0" r="1.15"/><circle cx="440.1" cy="128.3" r="1.15"/></g>
<g fill="#dccf1e"><circle cx="313.1" cy="94.2" r="1.15"/><circle cx="320.4" cy="98.4" r="1.15"/><circle cx="318.7" cy="101.5" r="1.15"/><circle cx="327.6" cy="95.1" r="1.15"/><circle cx="326.0" cy="102.9" r="1.15"/><circle cx="337.8" cy="95.5" r="1.15"/><circle cx="333.3" cy="107.5" r="1.15"/><circle cx="334.9" cy="107.5" r="1.15"/><circle cx="339.1" cy="106.4" r="1.15"/><circle cx="354.2" cy="99.3" r="1.15"/><circle cx="361.8" cy="97.8" r="1.15"/><circle cx="363.3" cy="94.7" r="1.15"/><circle cx="365.5" cy="93.6" r="1.15"/><circle cx="366.9" cy="94.7" r="1.15"/><circle cx="369.6" cy="93.6" r="1.15"/><circle cx="371.5" cy="94.2" r="1.15"/><circle cx="374.5" cy="92.0" r="1.15"/><circle cx="373.6" cy="96.0" r="1.15"/><circle cx="371.5" cy="99.6" r="1.15"/><circle cx="367.6" cy="103.6" r="1.15"/><circle cx="362.7" cy="102.0" r="1.15"/><circle cx="362.4" cy="104.2" r="1.15"/><circle cx="360.0" cy="105.6" r="1.15"/><circle cx="357.8" cy="106.9" r="1.15"/><circle cx="456.0" cy="94.5" r="1.15"/><circle cx="452.7" cy="98.2" r="1.15"/><circle cx="449.1" cy="100.5" r="1.15"/><circle cx="447.3" cy="101.8" r="1.15"/><circle cx="453.3" cy="102.9" r="1.15"/><circle cx="453.6" cy="105.5" r="1.15"/><circle cx="458.7" cy="98.7" r="1.15"/><circle cx="460.0" cy="96.0" r="1.15"/><circle cx="460.9" cy="100.2" r="1.15"/><circle cx="462.7" cy="96.9" r="1.15"/><circle cx="463.6" cy="98.7" r="1.15"/><circle cx="460.0" cy="104.2" r="1.15"/><circle cx="467.3" cy="97.8" r="1.15"/><circle cx="466.9" cy="105.1" r="1.15"/><circle cx="478.5" cy="104.2" r="1.15"/><circle cx="487.3" cy="97.3" r="1.15"/><circle cx="494.9" cy="93.6" r="1.15"/><circle cx="509.1" cy="98.2" r="1.15"/><circle cx="461.5" cy="93.5" r="1.15"/><circle cx="459.5" cy="101.5" r="1.15"/><circle cx="457.0" cy="103.5" r="1.15"/><circle cx="455.0" cy="100.0" r="1.15"/><circle cx="464.0" cy="101.8" r="1.15"/></g>
<g fill="#0b7a1e"><circle cx="354.4" cy="47.7" r="1.15"/><circle cx="354.0" cy="78.6" r="1.15"/><circle cx="356.0" cy="84.8" r="1.15"/><circle cx="361.8" cy="82.6" r="1.15"/><circle cx="361.5" cy="85.4" r="1.15"/><circle cx="365.8" cy="80.5" r="1.15"/><circle cx="372.0" cy="77.7" r="1.15"/><circle cx="374.9" cy="74.8" r="1.15"/><circle cx="374.5" cy="85.7" r="1.15"/><circle cx="343.1" cy="85.7" r="1.15"/><circle cx="330.0" cy="87.0" r="1.15"/><circle cx="336.5" cy="86.8" r="1.15"/><circle cx="464.5" cy="34.5" r="1.15"/><circle cx="489.1" cy="41.7" r="1.15"/><circle cx="446.4" cy="42.3" r="1.15"/><circle cx="446.7" cy="48.1" r="1.15"/><circle cx="446.0" cy="55.0" r="1.15"/><circle cx="450.0" cy="57.2" r="1.15"/><circle cx="447.3" cy="60.5" r="1.15"/><circle cx="462.7" cy="52.6" r="1.15"/><circle cx="480.9" cy="52.8" r="1.15"/><circle cx="452.7" cy="69.9" r="1.15"/><circle cx="449.6" cy="71.7" r="1.15"/><circle cx="446.0" cy="73.5" r="1.15"/><circle cx="460.9" cy="70.3" r="1.15"/><circle cx="464.0" cy="70.8" r="1.15"/><circle cx="464.9" cy="72.6" r="1.15"/><circle cx="455.8" cy="75.9" r="1.15"/><circle cx="472.4" cy="74.5" r="1.15"/><circle cx="479.5" cy="70.8" r="1.15"/><circle cx="468.2" cy="78.6" r="1.15"/><circle cx="463.3" cy="83.0" r="1.15"/><circle cx="491.8" cy="37.2" r="1.15"/><circle cx="497.6" cy="45.7" r="1.15"/><circle cx="494.2" cy="51.2" r="1.15"/><circle cx="536.9" cy="58.1" r="1.15"/><circle cx="500.9" cy="73.2" r="1.15"/><circle cx="482.7" cy="87.8" r="1.15"/></g>
<path d="M303.7 107.7H545.5" stroke="#f2ee30" stroke-width="1.1" stroke-dasharray="2.9 1.95" fill="none"/>
<path d="M303.7 88.1H545.5" stroke="#35a558" stroke-width="1.25" stroke-dasharray="2.9 1.95" fill="none"/>
<path d="M376.4 31.4V146.6" stroke="#ff3040" stroke-width="1.05" stroke-dasharray="2.5 2.1" fill="none"/>
<text x="376.4" y="37.0" font-size="3.2" font-weight="bold" fill="#ff2a2a" text-anchor="middle">0.38</text>
<path d="M445.3 31.4V146.6" stroke="#ff3040" stroke-width="1.05" stroke-dasharray="2.5 2.1" fill="none"/>
<text x="445.3" y="37.0" font-size="3.2" font-weight="bold" fill="#ff2a2a" text-anchor="middle">-0.38</text>
<path d="M45.2 181V287.0" stroke="#d9d9d9" stroke-width="0.7" fill="none"/>
<path d="M45.2 287.0H240" stroke="#d9d9d9" stroke-width="0.7" fill="none"/>
<g font-size="5.6" fill="#595959" text-anchor="end">
<text x="39.8" y="289.3">0</text>
<text x="39.8" y="271.8">50</text>
<text x="39.8" y="254.3">100</text>
<text x="39.8" y="236.8">150</text>
<text x="39.8" y="219.3">200</text>
<text x="39.8" y="201.8">250</text>
<text x="39.8" y="184.3">300</text>
</g>
<rect x="74" y="234.5" width="38.8" height="52.5" fill="#ff0000"/>
<rect x="74" y="188.7" width="38.8" height="45.8" fill="#00cc33"/>
<rect x="171.5" y="275.4" width="38.8" height="11.5" fill="#ff0000"/>
<rect x="171.5" y="268.8" width="38.8" height="6.6" fill="#00cc33"/>
<g font-size="5.2" text-anchor="middle">
<text x="93.4" y="213.5" fill="#3f5f3f">131</text>
<text x="93.4" y="262.6" fill="#b32424">150</text>
<text x="190.9" y="274.0" fill="#3f5f3f">19</text>
<text x="190.9" y="283.1" fill="#b32424">33</text>
</g>
<g font-size="5" fill="#666" text-anchor="middle">
<text x="93.4" y="296.6">ALS</text><text x="190.9" y="296.6">DFT</text></g>
<rect x="121" y="306.2" width="3" height="3" fill="#ff0000"/><rect x="135.8" y="306.2" width="3" height="3" fill="#00cc33"/>
<g font-size="5.2" fill="#6a6a6a"><text x="125.2" y="309.5">UP</text><text x="140" y="309.5">DOWN</text></g>
<ellipse cx="393.3" cy="242.1" rx="53.5" ry="53" fill="none" stroke="#1a1a1a" stroke-width="0.9"/>
<ellipse cx="447" cy="242.1" rx="53.9" ry="53" fill="none" stroke="#1a1a1a" stroke-width="0.9"/>
<g font-size="8.4" fill="#111" text-anchor="middle">
<text x="392.2" y="184.4" textLength="13.7" lengthAdjust="spacingAndGlyphs">ALS</text><text x="451" y="184.4" textLength="14.6" lengthAdjust="spacingAndGlyphs">DFT</text>
<text x="371.5" y="246.6">248</text><text x="424.2" y="246.6">33</text><text x="471" y="246.6">20</text></g>
</svg>
</body></html>
